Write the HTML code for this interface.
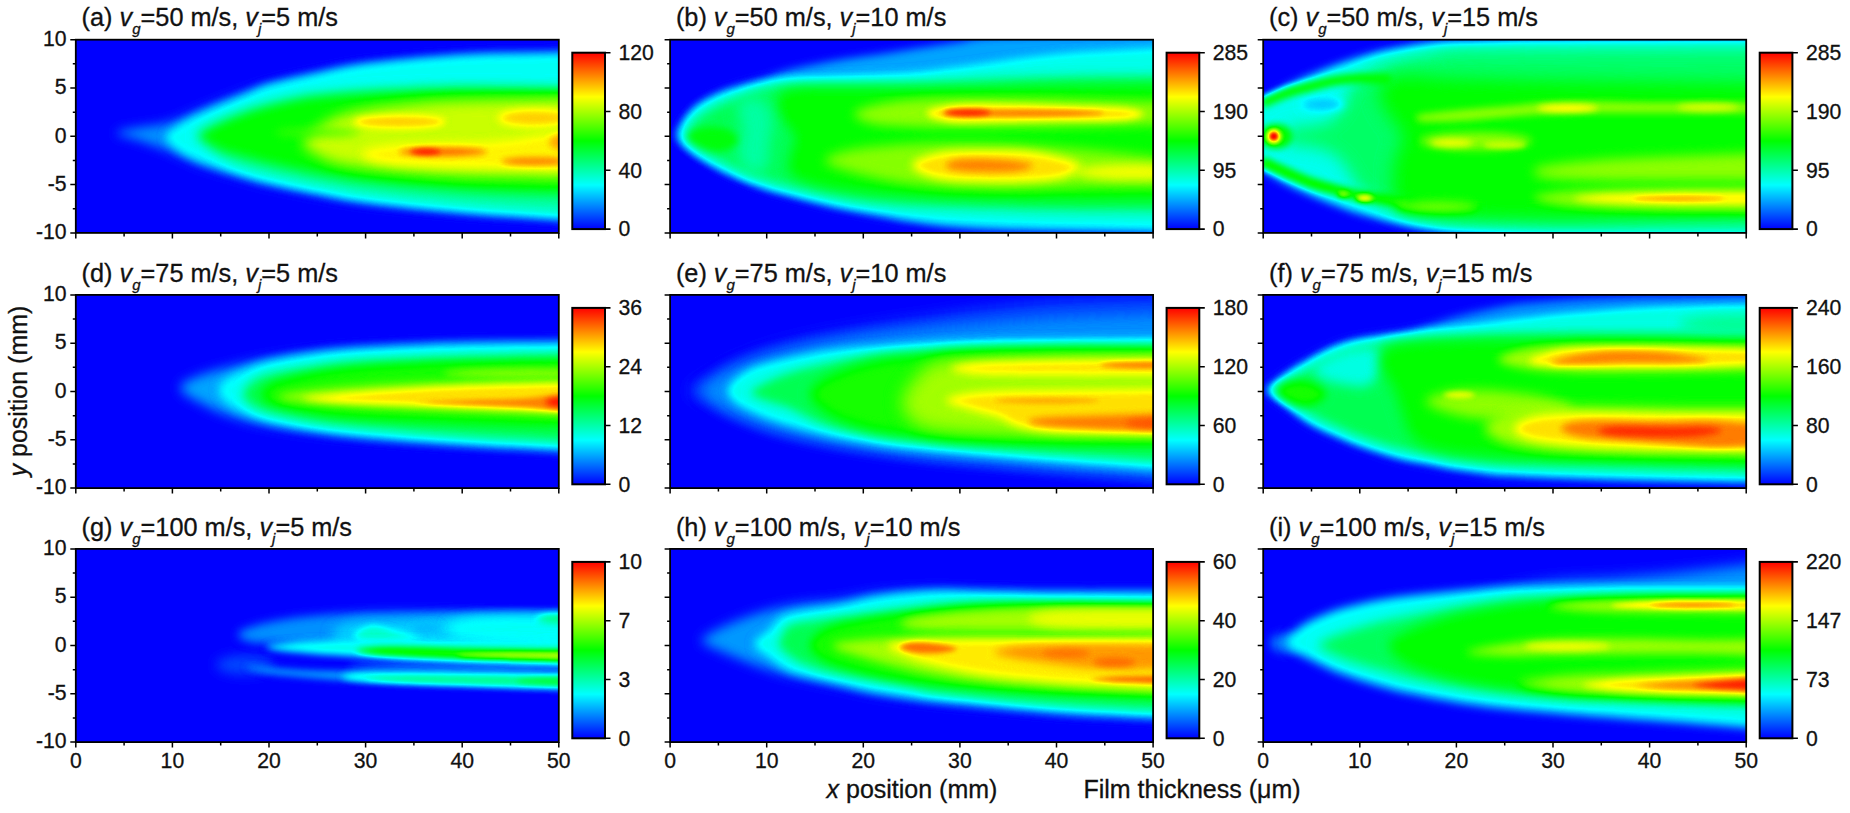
<!DOCTYPE html>
<html lang="en"><head><meta charset="utf-8"><title>Film thickness maps</title>
<style>
html,body{margin:0;padding:0;background:#fff;}
svg{display:block;}
text{font-family:"Liberation Sans", sans-serif;fill:#111;stroke:#111;stroke-width:0.3px;}
.t{font-size:21.2px;}
.ti{font-size:25.3px;}
.i{font-style:italic;}
.sub{font-style:italic;font-size:15px;}
.ax{font-size:25px;}
</style></head><body>
<svg width="1850" height="813" viewBox="0 0 1850 813">
<defs>
<filter id="jet" color-interpolation-filters="sRGB" filterUnits="userSpaceOnUse" x="-2" y="-12" width="54" height="24"><feComponentTransfer><feFuncR type="table" tableValues="0 0 0 1 1"/><feFuncG type="table" tableValues="0 1 1 1 0"/><feFuncB type="table" tableValues="1 1 0 0 0"/></feComponentTransfer></filter>
<filter id="b0_18" color-interpolation-filters="sRGB" x="-100%" y="-100%" width="300%" height="300%"><feGaussianBlur stdDeviation="0.18"/></filter>
<filter id="b0_22" color-interpolation-filters="sRGB" x="-100%" y="-100%" width="300%" height="300%"><feGaussianBlur stdDeviation="0.22"/></filter>
<filter id="b0_25" color-interpolation-filters="sRGB" x="-100%" y="-100%" width="300%" height="300%"><feGaussianBlur stdDeviation="0.25"/></filter>
<filter id="b0_3" color-interpolation-filters="sRGB" x="-100%" y="-100%" width="300%" height="300%"><feGaussianBlur stdDeviation="0.3"/></filter>
<filter id="b0_35" color-interpolation-filters="sRGB" x="-100%" y="-100%" width="300%" height="300%"><feGaussianBlur stdDeviation="0.35"/></filter>
<filter id="b0_4" color-interpolation-filters="sRGB" x="-100%" y="-100%" width="300%" height="300%"><feGaussianBlur stdDeviation="0.4"/></filter>
<filter id="b0_45" color-interpolation-filters="sRGB" x="-100%" y="-100%" width="300%" height="300%"><feGaussianBlur stdDeviation="0.45"/></filter>
<filter id="b0_5" color-interpolation-filters="sRGB" x="-100%" y="-100%" width="300%" height="300%"><feGaussianBlur stdDeviation="0.5"/></filter>
<filter id="b0_55" color-interpolation-filters="sRGB" x="-100%" y="-100%" width="300%" height="300%"><feGaussianBlur stdDeviation="0.55"/></filter>
<filter id="b0_6" color-interpolation-filters="sRGB" x="-100%" y="-100%" width="300%" height="300%"><feGaussianBlur stdDeviation="0.6"/></filter>
<filter id="b0_7" color-interpolation-filters="sRGB" x="-100%" y="-100%" width="300%" height="300%"><feGaussianBlur stdDeviation="0.7"/></filter>
<filter id="b0_8" color-interpolation-filters="sRGB" x="-100%" y="-100%" width="300%" height="300%"><feGaussianBlur stdDeviation="0.8"/></filter>
<filter id="b0_9" color-interpolation-filters="sRGB" x="-100%" y="-100%" width="300%" height="300%"><feGaussianBlur stdDeviation="0.9"/></filter>
<clipPath id="cp"><rect x="0" y="-10" width="50" height="20"/></clipPath>
<linearGradient id="cb" x1="0" y1="1" x2="0" y2="0"><stop offset="0" stop-color="#0000ff"/><stop offset="0.25" stop-color="#00ffff"/><stop offset="0.5" stop-color="#00ff00"/><stop offset="0.75" stop-color="#ffff00"/><stop offset="1" stop-color="#ff0000"/></linearGradient>
</defs>
<rect width="1850" height="813" fill="#fff"/>
<g transform="translate(75.8,136.3) scale(9.66,-9.66)" clip-path="url(#cp)">
<g filter="url(#jet)">
<rect x="-8" y="-18" width="76" height="36" fill="#000000"/>
<path d="M60,8.85C58.33,8.81 53.33,8.68 50,8.6C46.67,8.52 43.33,8.54 40,8.35C36.67,8.16 32.5,7.76 30,7.45C27.5,7.14 26.67,6.84 25,6.5C23.33,6.16 21.23,5.72 20,5.4C18.77,5.08 18.45,4.9 17.6,4.6C16.75,4.3 15.8,3.95 14.9,3.6C14,3.25 13.1,2.87 12.2,2.5C11.3,2.13 10.45,1.67 9.5,1.4C8.55,1.13 7.38,1.07 6.5,0.9C5.62,0.73 4.2,0.57 4.2,0.35C4.2,0.13 5.62,-0.09 6.5,-0.4C7.38,-0.71 8.55,-1.12 9.5,-1.5C10.45,-1.88 11.3,-2.35 12.2,-2.7C13.1,-3.05 14,-3.32 14.9,-3.6C15.8,-3.88 16.75,-4.17 17.6,-4.4C18.45,-4.63 18.77,-4.73 20,-5C21.23,-5.27 23.33,-5.69 25,-6C26.67,-6.31 27.5,-6.54 30,-6.85C32.5,-7.16 36.67,-7.57 40,-7.85C43.33,-8.13 46.67,-8.32 50,-8.55C53.33,-8.78 58.33,-9.13 60,-9.25Z" fill="#242424" filter="url(#b0_55)"/>
<path d="M60,8.8C58.33,8.76 53.33,8.63 50,8.55C46.67,8.47 43.33,8.49 40,8.3C36.67,8.11 32.5,7.71 30,7.4C27.5,7.09 26.67,6.8 25,6.45C23.33,6.1 21.23,5.66 20,5.3C18.77,4.94 18.45,4.65 17.6,4.3C16.75,3.95 15.8,3.58 14.9,3.2C14,2.82 12.97,2.38 12.2,2C11.43,1.62 10.78,1.25 10.3,0.9C9.82,0.55 9.3,0.25 9.3,-0.1C9.3,-0.45 9.82,-0.83 10.3,-1.2C10.78,-1.57 11.43,-1.95 12.2,-2.3C12.97,-2.65 14,-2.99 14.9,-3.3C15.8,-3.61 16.75,-3.9 17.6,-4.15C18.45,-4.4 18.77,-4.52 20,-4.8C21.23,-5.08 23.33,-5.52 25,-5.85C26.67,-6.17 27.5,-6.42 30,-6.75C32.5,-7.08 36.67,-7.51 40,-7.8C43.33,-8.09 46.67,-8.27 50,-8.5C53.33,-8.73 58.33,-9.08 60,-9.2Z" fill="#424242" filter="url(#b0_45)"/>
<path d="M60,4C58.33,4 53.33,4 50,4C46.67,4 43.33,4.17 40,4C36.67,3.83 33.33,3.42 30,3C26.67,2.58 22.67,2.08 20,1.5C17.33,0.92 14.67,0.18 14,-0.5C13.33,-1.18 15,-2.03 16,-2.6C17,-3.17 18.5,-3.5 20,-3.9C21.5,-4.3 23.33,-4.67 25,-5C26.67,-5.33 27.5,-5.57 30,-5.9C32.5,-6.23 36.67,-6.7 40,-7C43.33,-7.3 46.67,-7.47 50,-7.7C53.33,-7.93 58.33,-8.28 60,-8.4Z" fill="#595959" filter="url(#b0_6)"/>
<path d="M60,4.9C58.33,4.92 53.33,4.97 50,5C46.67,5.03 43.33,5.15 40,5.1C36.67,5.05 32.5,4.83 30,4.7C27.5,4.57 26.17,4.42 25,4.3C23.83,4.18 23.78,4.15 23,4C22.22,3.85 21.2,3.63 20.3,3.4C19.4,3.17 18.5,2.92 17.6,2.6C16.7,2.28 15.73,1.93 14.9,1.5C14.07,1.07 12.6,0.48 12.6,0C12.6,-0.48 14.07,-1.03 14.9,-1.4C15.73,-1.77 16.7,-1.95 17.6,-2.2C18.5,-2.45 19.4,-2.68 20.3,-2.9C21.2,-3.12 22.22,-3.33 23,-3.5C23.78,-3.67 23.83,-3.7 25,-3.9C26.17,-4.1 27.5,-4.42 30,-4.7C32.5,-4.98 36.67,-5.38 40,-5.6C43.33,-5.82 46.67,-5.87 50,-6C53.33,-6.13 58.33,-6.33 60,-6.4Z" fill="#808080" filter="url(#b0_6)"/>
<path d="M60,4.1C58.33,4.07 53.33,3.97 50,3.9C46.67,3.83 42.5,3.78 40,3.7C37.5,3.62 36.67,3.55 35,3.4C33.33,3.25 31.33,3.03 30,2.8C28.67,2.57 27.83,2.33 27,2C26.17,1.67 25.58,1.27 25,0.8C24.42,0.33 23.42,-0.3 23.5,-0.8C23.58,-1.3 24.92,-1.87 25.5,-2.2C26.08,-2.53 26.25,-2.62 27,-2.8C27.75,-2.98 28.67,-3.13 30,-3.3C31.33,-3.47 33.33,-3.67 35,-3.8C36.67,-3.93 37.5,-4.02 40,-4.1C42.5,-4.18 46.67,-4.23 50,-4.3C53.33,-4.37 58.33,-4.47 60,-4.5Z" fill="#b2b2b2" filter="url(#b0_7)"/>
<ellipse cx="25" cy="0.4" rx="4.5" ry="0.4" fill="#8f8f8f" filter="url(#b0_5)"/>
<ellipse cx="33.5" cy="1.5" rx="4.8" ry="0.65" fill="#cccccc" filter="url(#b0_4)"/>
<ellipse cx="47.5" cy="1.9" rx="3.8" ry="0.85" fill="#cccccc" filter="url(#b0_45)"/>
<path d="M60,1.9C58.33,1.65 52.67,0.8 50,0.4C47.33,0 46,-0.32 44,-0.5C42,-0.68 40,-0.62 38,-0.7C36,-0.78 33.42,-0.82 32,-1C30.58,-1.18 29.5,-1.5 29.5,-1.8C29.5,-2.1 30.58,-2.57 32,-2.8C33.42,-3.03 36,-3.12 38,-3.2C40,-3.28 42,-3.25 44,-3.3C46,-3.35 47.33,-3.41 50,-3.5C52.67,-3.59 58.33,-3.78 60,-3.83Z" fill="#c2c2c2" filter="url(#b0_5)"/>
<ellipse cx="38" cy="-1.6" rx="4.6" ry="0.42" fill="#e6e6e6" filter="url(#b0_35)"/>
<ellipse cx="36.2" cy="-1.6" rx="1.6" ry="0.3" fill="#fafafa" filter="url(#b0_3)"/>
<ellipse cx="47.5" cy="-2.6" rx="3.5" ry="0.4" fill="#e0e0e0" filter="url(#b0_35)"/>
<ellipse cx="50.5" cy="-0.6" rx="1.5" ry="0.8" fill="#d6d6d6" filter="url(#b0_4)"/>
</g></g>
<rect x="75.8" y="39.7" width="483" height="193.2" fill="none" stroke="#000" stroke-width="1.8"/>
<path d="M75.8,232.9 v5.5 M124.1,232.9 v3.5 M172.4,232.9 v5.5 M220.7,232.9 v3.5 M269,232.9 v5.5 M317.3,232.9 v3.5 M365.6,232.9 v5.5 M413.9,232.9 v3.5 M462.2,232.9 v5.5 M510.5,232.9 v3.5 M558.8,232.9 v5.5 M75.8,39.7 h-5.5 M75.8,63.85 h-3 M75.8,88 h-5.5 M75.8,112.15 h-3 M75.8,136.3 h-5.5 M75.8,160.45 h-3 M75.8,184.6 h-5.5 M75.8,208.75 h-3 M75.8,232.9 h-5.5" stroke="#000" stroke-width="1.5" fill="none"/>
<text x="66.5" y="45.9" text-anchor="end" class="t">10</text>
<text x="66.5" y="94.2" text-anchor="end" class="t">5</text>
<text x="66.5" y="142.5" text-anchor="end" class="t">0</text>
<text x="66.5" y="190.8" text-anchor="end" class="t">-5</text>
<text x="66.5" y="239.1" text-anchor="end" class="t">-10</text>
<text x="81.6" y="26.4" class="ti">(a) <tspan class="i">v</tspan><tspan class="sub" dy="8">g</tspan><tspan dy="-8">=50 m/s, </tspan><tspan class="i">v</tspan><tspan class="sub" dy="8">j</tspan><tspan dy="-8">=5 m/s</tspan></text>
<rect x="572.3" y="52.7" width="32.7" height="176.4" fill="url(#cb)" stroke="#000" stroke-width="2"/>
<text x="618.5" y="236.3" class="t">0</text>
<text x="618.5" y="177.5" class="t">40</text>
<text x="618.5" y="118.7" class="t">80</text>
<text x="618.5" y="59.9" class="t">120</text>
<path d="M605,229.1 h5.5 M605,170.3 h5.5 M605,111.5 h5.5 M605,52.7 h5.5" stroke="#000" stroke-width="1.6" fill="none"/>
<g transform="translate(670.1,136.3) scale(9.66,-9.66)" clip-path="url(#cp)">
<g filter="url(#jet)">
<rect x="-8" y="-18" width="76" height="36" fill="#000000"/>
<path d="M60,10.79C58.33,10.76 54.33,10.68 50,10.6C45.67,10.52 37.38,10.45 34,10.3C30.62,10.15 31.2,9.92 29.7,9.7C28.2,9.48 26.27,9.19 25,9C23.73,8.81 23.4,8.74 22.1,8.55C20.8,8.36 18.83,8.13 17.2,7.85C15.57,7.57 13.53,7.16 12.3,6.85C11.07,6.54 10.62,6.26 9.8,6C8.98,5.74 8.22,5.56 7.4,5.3C6.58,5.04 5.72,4.83 4.9,4.45C4.08,4.07 3.12,3.51 2.5,3C1.88,2.49 1.52,1.88 1.2,1.4C0.88,0.92 0.6,0.47 0.6,0.1C0.6,-0.27 0.88,-0.48 1.2,-0.8C1.52,-1.12 1.88,-1.43 2.5,-1.85C3.12,-2.27 4.08,-2.9 4.9,-3.35C5.72,-3.8 6.58,-4.2 7.4,-4.55C8.22,-4.9 8.98,-5.18 9.8,-5.45C10.62,-5.72 11.07,-5.83 12.3,-6.15C13.53,-6.48 15.57,-7.03 17.2,-7.4C18.83,-7.77 20.8,-8.11 22.1,-8.35C23.4,-8.59 23.73,-8.67 25,-8.85C26.27,-9.03 28.03,-9.3 29.7,-9.45C31.37,-9.6 31.62,-9.67 35,-9.75C38.38,-9.83 45.83,-9.89 50,-9.95C54.17,-10.01 58.33,-10.06 60,-10.08Z" fill="#292929" filter="url(#b0_45)"/>
<path d="M60,9.7C58.33,9.6 53.33,9.3 50,9.1C46.67,8.9 43.33,8.82 40,8.5C36.67,8.18 32.5,7.52 30,7.2C27.5,6.88 26.83,6.75 25,6.6C23.17,6.45 20.68,6.38 19,6.3C17.32,6.22 16.02,6.16 14.9,6.1C13.78,6.04 13.15,6.03 12.3,5.95C11.45,5.87 10.62,5.76 9.8,5.6C8.98,5.44 8.22,5.24 7.4,5C6.58,4.76 5.72,4.53 4.9,4.15C4.08,3.77 3.15,3.38 2.5,2.7C1.85,2.03 1,0.82 1,0.1C1,-0.62 1.85,-1.12 2.5,-1.65C3.15,-2.18 4.08,-2.66 4.9,-3.1C5.72,-3.54 6.58,-3.95 7.4,-4.3C8.22,-4.65 8.98,-4.93 9.8,-5.2C10.62,-5.47 11.07,-5.58 12.3,-5.9C13.53,-6.22 15.57,-6.75 17.2,-7.1C18.83,-7.45 20.8,-7.77 22.1,-8C23.4,-8.23 23.73,-8.33 25,-8.5C26.27,-8.67 27.2,-8.85 29.7,-9C32.2,-9.15 36.62,-9.3 40,-9.4C43.38,-9.5 46.67,-9.53 50,-9.6C53.33,-9.67 58.33,-9.77 60,-9.8Z" fill="#454545" filter="url(#b0_45)"/>
<path d="M60,6.4C58.33,6.38 53.33,6.33 50,6.3C46.67,6.27 43.33,6.28 40,6.2C36.67,6.12 32.5,5.91 30,5.8C27.5,5.69 26.83,5.6 25,5.55C23.17,5.5 21.12,5.52 19,5.5C16.88,5.48 13.83,5.53 12.3,5.45C10.77,5.37 10.62,5.21 9.8,5C8.98,4.79 8.22,4.5 7.4,4.2C6.58,3.9 5.72,3.63 4.9,3.2C4.08,2.77 3.02,2.13 2.5,1.6C1.98,1.07 1.8,0.43 1.8,0C1.8,-0.43 1.98,-0.6 2.5,-1C3.02,-1.4 4.08,-1.97 4.9,-2.4C5.72,-2.83 6.58,-3.25 7.4,-3.6C8.22,-3.95 8.98,-4.23 9.8,-4.5C10.62,-4.77 11.07,-4.9 12.3,-5.2C13.53,-5.5 15.57,-6 17.2,-6.3C18.83,-6.6 20.02,-6.82 22.1,-7C24.18,-7.18 26.72,-7.28 29.7,-7.4C32.68,-7.52 36.62,-7.63 40,-7.7C43.38,-7.77 46.67,-7.77 50,-7.8C53.33,-7.83 58.33,-7.88 60,-7.9Z" fill="#6b6b6b" filter="url(#b0_6)"/>
<path d="M60,5.4C58.33,5.38 53.33,5.33 50,5.3C46.67,5.27 43.33,5.25 40,5.2C36.67,5.15 33.5,5.03 30,5C26.5,4.97 21.83,5.02 19,5C16.17,4.98 14.3,5.07 13,4.9C11.7,4.73 11.45,4.48 11.2,4C10.95,3.52 11.2,2.67 11.5,2C11.8,1.33 12.83,0.67 13,0C13.17,-0.67 12.58,-1.37 12.5,-2C12.42,-2.63 12.1,-3.32 12.5,-3.8C12.9,-4.28 13.83,-4.6 14.9,-4.9C15.97,-5.2 17.33,-5.4 18.9,-5.6C20.47,-5.8 22.5,-5.97 24.3,-6.1C26.1,-6.23 27.08,-6.32 29.7,-6.4C32.32,-6.48 36.62,-6.57 40,-6.6C43.38,-6.63 46.67,-6.6 50,-6.6C53.33,-6.6 58.33,-6.6 60,-6.6Z" fill="#808080" filter="url(#b0_6)"/>
<path d="M7,3.3C7.3,3.88 8.7,4.22 9.3,4C9.9,3.78 10.43,2.83 10.6,2C10.77,1.17 10.4,-0.12 10.3,-1C10.2,-1.88 10.35,-2.85 10,-3.3C9.65,-3.75 8.7,-3.92 8.2,-3.7C7.7,-3.48 7.12,-2.7 7,-2C6.88,-1.3 7.5,-0.38 7.5,0.5C7.5,1.38 6.7,2.72 7,3.3Z" fill="#575757" filter="url(#b0_7)"/>
<path d="M1.8,0C1.8,0.35 2.8,0.78 3.5,0.9C4.2,1.02 5.42,0.93 6,0.7C6.58,0.47 7.08,-0.13 7,-0.5C6.92,-0.87 6.08,-1.38 5.5,-1.5C4.92,-1.62 4.12,-1.45 3.5,-1.2C2.88,-0.95 1.8,-0.35 1.8,0Z" fill="#7d7d7d" filter="url(#b0_4)"/>
<path d="M60,3.3C58.33,3.35 53.33,3.5 50,3.6C46.67,3.7 43.33,3.83 40,3.9C36.67,3.97 32.5,4.02 30,4C27.5,3.98 26.5,3.93 25,3.8C23.5,3.67 22,3.45 21,3.2C20,2.95 19,2.62 19,2.3C19,1.98 20,1.52 21,1.3C22,1.08 23.5,1.07 25,1C26.5,0.93 27.5,0.9 30,0.9C32.5,0.9 36.67,0.95 40,1C43.33,1.05 46.67,1.13 50,1.2C53.33,1.27 58.33,1.37 60,1.4Z" fill="#a3a3a3" filter="url(#b0_55)"/>
<path d="M26.5,2.4C26.5,2.68 27.75,3.05 29,3.2C30.25,3.35 32,3.32 34,3.3C36,3.28 38.83,3.17 41,3.1C43.17,3.03 45.67,3.03 47,2.9C48.33,2.77 49,2.5 49,2.3C49,2.1 48.33,1.82 47,1.7C45.67,1.58 43.17,1.63 41,1.6C38.83,1.57 36,1.52 34,1.5C32,1.48 30.25,1.35 29,1.5C27.75,1.65 26.5,2.12 26.5,2.4Z" fill="#c7c7c7" filter="url(#b0_4)"/>
<ellipse cx="36.5" cy="2.4" rx="8.5" ry="0.36" fill="#e0e0e0" filter="url(#b0_3)"/>
<ellipse cx="30.8" cy="2.45" rx="2.4" ry="0.36" fill="#f7f7f7" filter="url(#b0_3)"/>
<path d="M60,-3.1C58.33,-2.93 53,-2.4 50,-2.1C47,-1.8 44.5,-1.52 42,-1.3C39.5,-1.08 37,-0.9 35,-0.8C33,-0.7 31.67,-0.7 30,-0.7C28.33,-0.7 26.67,-0.72 25,-0.8C23.33,-0.88 21.25,-1.05 20,-1.2C18.75,-1.35 18.17,-1.48 17.5,-1.7C16.83,-1.92 15.92,-2.2 16,-2.5C16.08,-2.8 17,-3.17 18,-3.5C19,-3.83 20.67,-4.23 22,-4.5C23.33,-4.77 24.67,-4.95 26,-5.1C27.33,-5.25 28.33,-5.33 30,-5.4C31.67,-5.47 34,-5.52 36,-5.5C38,-5.48 39.67,-5.35 42,-5.3C44.33,-5.25 47,-5.24 50,-5.2C53,-5.16 58.33,-5.1 60,-5.08Z" fill="#a1a1a1" filter="url(#b0_6)"/>
<path d="M25,-3C25,-2.55 26.67,-1.95 28,-1.7C29.33,-1.45 31.33,-1.5 33,-1.5C34.67,-1.5 36.42,-1.45 38,-1.7C39.58,-1.95 42.17,-2.55 42.5,-3C42.83,-3.45 41.42,-4.12 40,-4.4C38.58,-4.68 36,-4.7 34,-4.7C32,-4.7 29.5,-4.68 28,-4.4C26.5,-4.12 25,-3.45 25,-3Z" fill="#c7c7c7" filter="url(#b0_5)"/>
<path d="M28.5,-3C28.58,-2.82 29.08,-2.5 30,-2.4C30.92,-2.3 32.75,-2.32 34,-2.4C35.25,-2.48 37.17,-2.7 37.5,-2.9C37.83,-3.1 36.92,-3.47 36,-3.6C35.08,-3.73 33.08,-3.72 32,-3.7C30.92,-3.68 30.08,-3.62 29.5,-3.5C28.92,-3.38 28.42,-3.18 28.5,-3Z" fill="#dedede" filter="url(#b0_4)"/>
<ellipse cx="48" cy="-3.7" rx="6" ry="0.8" fill="#bdbdbd" filter="url(#b0_5)"/>
</g></g>
<rect x="670.1" y="39.7" width="483" height="193.2" fill="none" stroke="#000" stroke-width="1.8"/>
<path d="M670.1,232.9 v5.5 M718.4,232.9 v3.5 M766.7,232.9 v5.5 M815,232.9 v3.5 M863.3,232.9 v5.5 M911.6,232.9 v3.5 M959.9,232.9 v5.5 M1008.2,232.9 v3.5 M1056.5,232.9 v5.5 M1104.8,232.9 v3.5 M1153.1,232.9 v5.5 M670.1,39.7 h-5.5 M670.1,63.85 h-3 M670.1,88 h-5.5 M670.1,112.15 h-3 M670.1,136.3 h-5.5 M670.1,160.45 h-3 M670.1,184.6 h-5.5 M670.1,208.75 h-3 M670.1,232.9 h-5.5" stroke="#000" stroke-width="1.5" fill="none"/>
<text x="675.9" y="26.4" class="ti">(b) <tspan class="i">v</tspan><tspan class="sub" dy="8">g</tspan><tspan dy="-8">=50 m/s, </tspan><tspan class="i">v</tspan><tspan class="sub" dy="8">j</tspan><tspan dy="-8">=10 m/s</tspan></text>
<rect x="1166.6" y="52.7" width="32.7" height="176.4" fill="url(#cb)" stroke="#000" stroke-width="2"/>
<text x="1212.8" y="236.3" class="t">0</text>
<text x="1212.8" y="177.5" class="t">95</text>
<text x="1212.8" y="118.7" class="t">190</text>
<text x="1212.8" y="59.9" class="t">285</text>
<path d="M1199.3,229.1 h5.5 M1199.3,170.3 h5.5 M1199.3,111.5 h5.5 M1199.3,52.7 h5.5" stroke="#000" stroke-width="1.6" fill="none"/>
<g transform="translate(1263.2,136.3) scale(9.66,-9.66)" clip-path="url(#cp)">
<g filter="url(#jet)">
<rect x="-8" y="-18" width="76" height="36" fill="#000000"/>
<path d="M60,10.1C58.33,10.1 55,10.12 50,10.1C45,10.08 34.17,10.03 30,10C25.83,9.97 26.67,9.94 25,9.9C23.33,9.86 21.28,9.8 20,9.75C18.72,9.7 18.17,9.68 17.3,9.6C16.43,9.52 15.63,9.38 14.8,9.25C13.97,9.12 13.12,8.98 12.3,8.8C11.48,8.62 10.72,8.4 9.9,8.15C9.08,7.9 8.23,7.61 7.4,7.3C6.57,6.99 5.72,6.65 4.9,6.3C4.08,5.95 3.22,5.57 2.5,5.2C1.78,4.83 1.18,4.45 0.6,4.1C0.02,3.75 -0.48,3.53 -1,3.1C-1.52,2.67 -2.17,2.02 -2.5,1.5C-2.83,0.98 -3,0.55 -3,0C-3,-0.55 -2.83,-1.3 -2.5,-1.8C-2.17,-2.3 -1.48,-2.67 -1,-3C-0.52,-3.33 -0.18,-3.42 0.4,-3.75C0.98,-4.08 1.75,-4.57 2.5,-4.95C3.25,-5.33 4.08,-5.7 4.9,-6.05C5.72,-6.4 6.57,-6.73 7.4,-7.05C8.23,-7.37 9.08,-7.69 9.9,-7.95C10.72,-8.21 11.48,-8.4 12.3,-8.6C13.12,-8.8 13.97,-8.98 14.8,-9.15C15.63,-9.32 16.43,-9.47 17.3,-9.6C18.17,-9.72 17.88,-9.78 20,-9.9C22.12,-10.02 25,-10.2 30,-10.3C35,-10.4 45,-10.47 50,-10.5C55,-10.53 58.33,-10.5 60,-10.5Z" fill="#454545" filter="url(#b0_45)"/>
<path d="M60,9.1C58.33,9.1 56.33,9.12 50,9.1C43.67,9.08 27.33,9.07 22,9C16.67,8.93 19.2,8.85 18,8.7C16.8,8.55 15.75,8.32 14.8,8.1C13.85,7.88 13.05,7.68 12.3,7.4C11.55,7.12 10.85,6.83 10.3,6.4C9.75,5.97 9.35,5.37 9,4.8C8.65,4.23 8.53,3.53 8.2,3C7.87,2.47 7.53,1.92 7,1.6C6.47,1.28 5.67,1.22 5,1.1C4.33,0.98 3.5,1.08 3,0.9C2.5,0.72 2,0.3 2,0C2,-0.3 2.5,-0.72 3,-0.9C3.5,-1.08 4.33,-0.97 5,-1.1C5.67,-1.23 6.42,-1.38 7,-1.7C7.58,-2.02 8.08,-2.48 8.5,-3C8.92,-3.52 9.12,-4.28 9.5,-4.8C9.88,-5.32 10.22,-5.65 10.8,-6.1C11.38,-6.55 12.33,-7.15 13,-7.5C13.67,-7.85 14.08,-8.01 14.8,-8.2C15.52,-8.39 16.43,-8.53 17.3,-8.65C18.17,-8.78 17.88,-8.84 20,-8.95C22.12,-9.06 25,-9.26 30,-9.3C35,-9.34 45,-9.22 50,-9.2C55,-9.18 58.33,-9.2 60,-9.2Z" fill="#666666" filter="url(#b0_8)"/>
<path d="M60,5.6C58.33,5.6 53.33,5.58 50,5.6C46.67,5.62 43.33,5.67 40,5.7C36.67,5.73 33.33,5.75 30,5.8C26.67,5.85 22.42,5.92 20,6C17.58,6.08 16.67,6.3 15.5,6.3C14.33,6.3 13.58,6.3 13,6C12.42,5.7 12.08,5 12,4.5C11.92,4 12.25,3.5 12.5,3C12.75,2.5 13.17,2 13.5,1.5C13.83,1 14.42,0.5 14.5,0C14.58,-0.5 14.17,-1 14,-1.5C13.83,-2 13.58,-2.42 13.5,-3C13.42,-3.58 13.5,-4.42 13.5,-5C13.5,-5.58 13.33,-6.1 13.5,-6.5C13.67,-6.9 14,-7.15 14.5,-7.4C15,-7.65 15.58,-7.83 16.5,-8C17.42,-8.17 17.75,-8.3 20,-8.4C22.25,-8.5 26.67,-8.58 30,-8.6C33.33,-8.62 36.67,-8.53 40,-8.5C43.33,-8.47 46.67,-8.42 50,-8.4C53.33,-8.38 58.33,-8.4 60,-8.4Z" fill="#808080" filter="url(#b0_9)"/>
<ellipse cx="6.2" cy="3.3" rx="2.2" ry="0.6" fill="#303030" filter="url(#b0_45)"/>
<path d="M0.2,3.55C0.58,3.71 1.72,4.23 2.5,4.5C3.28,4.77 4.08,4.94 4.9,5.15C5.72,5.36 6.57,5.61 7.4,5.75C8.23,5.89 9,5.97 9.9,6C10.8,6.03 12.32,5.92 12.8,5.9" fill="none" stroke="#808080" stroke-width="1" stroke-linecap="round" filter="url(#b0_35)"/>
<path d="M0.2,-2.75C0.58,-2.92 1.72,-3.46 2.5,-3.8C3.28,-4.14 4.08,-4.52 4.9,-4.8C5.72,-5.08 6.57,-5.28 7.4,-5.5C8.23,-5.72 9.08,-5.98 9.9,-6.15C10.72,-6.32 11.53,-6.38 12.3,-6.5C13.07,-6.62 14.13,-6.83 14.5,-6.9" fill="none" stroke="#858585" stroke-width="1.05" stroke-linecap="round" filter="url(#b0_35)"/>
<ellipse cx="10.5" cy="-6.4" rx="0.85" ry="0.34" fill="#c7c7c7" filter="url(#b0_25)"/>
<ellipse cx="8.3" cy="-6" rx="0.6" ry="0.3" fill="#a8a8a8" filter="url(#b0_25)"/>
<ellipse cx="1.3" cy="0" rx="1.7" ry="1.3" fill="#808080" filter="url(#b0_35)"/>
<ellipse cx="1.1" cy="0" rx="0.78" ry="0.78" fill="#c7c7c7" filter="url(#b0_22)"/>
<ellipse cx="1.1" cy="0" rx="0.4" ry="0.4" fill="#ffffff" filter="url(#b0_18)"/>
<path d="M60,3.5C58.33,3.5 53.33,3.5 50,3.5C46.67,3.5 43.17,3.48 40,3.5C36.83,3.52 33.5,3.67 31,3.6C28.5,3.53 26.83,3.25 25,3.1C23.17,2.95 21.42,2.83 20,2.7C18.58,2.57 17.2,2.43 16.5,2.3C15.8,2.17 15.72,2.03 15.8,1.9C15.88,1.77 15.97,1.53 17,1.5C18.03,1.47 20.17,1.58 22,1.7C23.83,1.82 26,2.08 28,2.2C30,2.32 31.67,2.37 34,2.4C36.33,2.43 39.33,2.4 42,2.4C44.67,2.4 47,2.4 50,2.4C53,2.4 58.33,2.4 60,2.4Z" fill="#a3a3a3" filter="url(#b0_4)"/>
<ellipse cx="31.5" cy="2.9" rx="3.2" ry="0.36" fill="#c7c7c7" filter="url(#b0_35)"/>
<ellipse cx="46" cy="3" rx="3.2" ry="0.36" fill="#b8b8b8" filter="url(#b0_35)"/>
<ellipse cx="22" cy="-0.5" rx="5.8" ry="0.9" fill="#a3a3a3" filter="url(#b0_45)"/>
<ellipse cx="19.5" cy="-0.7" rx="2.2" ry="0.4" fill="#bdbdbd" filter="url(#b0_35)"/>
<ellipse cx="25" cy="-0.9" rx="2.2" ry="0.36" fill="#b2b2b2" filter="url(#b0_3)"/>
<path d="M60,-1.43C58.33,-1.49 53,-1.69 50,-1.8C47,-1.91 44.67,-1.98 42,-2.1C39.33,-2.22 36.17,-2.33 34,-2.5C31.83,-2.67 30,-2.88 29,-3.1C28,-3.32 27.83,-3.58 28,-3.8C28.17,-4.02 28.67,-4.27 30,-4.4C31.33,-4.53 33.67,-4.57 36,-4.6C38.33,-4.63 41.67,-4.6 44,-4.6C46.33,-4.6 47.33,-4.6 50,-4.6C52.67,-4.6 58.33,-4.6 60,-4.6Z" fill="#a3a3a3" filter="url(#b0_6)"/>
<path d="M60,-5.1C58.33,-5.12 53.33,-5.17 50,-5.2C46.67,-5.23 43,-5.23 40,-5.3C37,-5.37 34,-5.43 32,-5.6C30,-5.77 28,-6.02 28,-6.3C28,-6.58 30,-7.07 32,-7.3C34,-7.53 37,-7.62 40,-7.7C43,-7.78 46.67,-7.77 50,-7.8C53.33,-7.83 58.33,-7.88 60,-7.9Z" fill="#a1a1a1" filter="url(#b0_5)"/>
<path d="M60,-5.85C58.33,-5.85 52.67,-5.85 50,-5.85C47.33,-5.85 46,-5.83 44,-5.85C42,-5.87 39.67,-5.9 38,-5.95C36.33,-6 35,-6.07 34,-6.15C33,-6.23 32,-6.35 32,-6.45C32,-6.55 33,-6.67 34,-6.75C35,-6.83 36.33,-6.9 38,-6.95C39.67,-7 42,-7.03 44,-7.05C46,-7.07 47.33,-7.05 50,-7.05C52.67,-7.05 58.33,-7.05 60,-7.05Z" fill="#c4c4c4" filter="url(#b0_4)"/>
<ellipse cx="43" cy="-6.45" rx="4.8" ry="0.24" fill="#d6d6d6" filter="url(#b0_3)"/>
<ellipse cx="18" cy="-7.3" rx="4.2" ry="0.55" fill="#9e9e9e" filter="url(#b0_5)"/>
</g></g>
<rect x="1263.2" y="39.7" width="483" height="193.2" fill="none" stroke="#000" stroke-width="1.8"/>
<path d="M1263.2,232.9 v5.5 M1311.5,232.9 v3.5 M1359.8,232.9 v5.5 M1408.1,232.9 v3.5 M1456.4,232.9 v5.5 M1504.7,232.9 v3.5 M1553,232.9 v5.5 M1601.3,232.9 v3.5 M1649.6,232.9 v5.5 M1697.9,232.9 v3.5 M1746.2,232.9 v5.5 M1263.2,39.7 h-5.5 M1263.2,63.85 h-3 M1263.2,88 h-5.5 M1263.2,112.15 h-3 M1263.2,136.3 h-5.5 M1263.2,160.45 h-3 M1263.2,184.6 h-5.5 M1263.2,208.75 h-3 M1263.2,232.9 h-5.5" stroke="#000" stroke-width="1.5" fill="none"/>
<text x="1269" y="26.4" class="ti">(c) <tspan class="i">v</tspan><tspan class="sub" dy="8">g</tspan><tspan dy="-8">=50 m/s, </tspan><tspan class="i">v</tspan><tspan class="sub" dy="8">j</tspan><tspan dy="-8">=15 m/s</tspan></text>
<rect x="1759.7" y="52.7" width="32.7" height="176.4" fill="url(#cb)" stroke="#000" stroke-width="2"/>
<text x="1805.9" y="236.3" class="t">0</text>
<text x="1805.9" y="177.5" class="t">95</text>
<text x="1805.9" y="118.7" class="t">190</text>
<text x="1805.9" y="59.9" class="t">285</text>
<path d="M1792.4,229.1 h5.5 M1792.4,170.3 h5.5 M1792.4,111.5 h5.5 M1792.4,52.7 h5.5" stroke="#000" stroke-width="1.6" fill="none"/>
<g transform="translate(75.8,391.5) scale(9.66,-9.66)" clip-path="url(#cp)">
<g filter="url(#jet)">
<rect x="-8" y="-18" width="76" height="36" fill="#000000"/>
<path d="M60,5.1C58.33,5.08 53.33,5.03 50,5C46.67,4.97 43.33,4.99 40,4.9C36.67,4.81 32.5,4.59 30,4.45C27.5,4.31 26.67,4.22 25,4.05C23.33,3.88 21.47,3.64 20,3.4C18.53,3.16 17.37,2.88 16.2,2.6C15.03,2.32 13.9,2.07 13,1.7C12.1,1.33 10.8,0.88 10.8,0.4C10.8,-0.08 12.1,-0.7 13,-1.2C13.9,-1.7 15.03,-2.22 16.2,-2.6C17.37,-2.98 18.53,-3.23 20,-3.5C21.47,-3.77 23.33,-4 25,-4.2C26.67,-4.4 27.5,-4.5 30,-4.7C32.5,-4.9 36.67,-5.19 40,-5.4C43.33,-5.61 46.67,-5.77 50,-5.95C53.33,-6.13 58.33,-6.41 60,-6.5Z" fill="#292929" filter="url(#b0_6)"/>
<path d="M60,5.1C58.33,5.08 53.33,5.03 50,5C46.67,4.97 43.33,4.99 40,4.9C36.67,4.81 32.5,4.6 30,4.45C27.5,4.3 26.67,4.22 25,4C23.33,3.77 21.25,3.4 20,3.1C18.75,2.8 18.25,2.52 17.5,2.2C16.75,1.88 15.95,1.53 15.5,1.2C15.05,0.87 14.8,0.57 14.8,0.2C14.8,-0.17 15.05,-0.6 15.5,-1C15.95,-1.4 16.75,-1.85 17.5,-2.2C18.25,-2.55 18.75,-2.79 20,-3.1C21.25,-3.41 23.33,-3.79 25,-4.05C26.67,-4.31 27.5,-4.43 30,-4.65C32.5,-4.88 36.67,-5.18 40,-5.4C43.33,-5.62 46.67,-5.77 50,-5.95C53.33,-6.13 58.33,-6.41 60,-6.5Z" fill="#424242" filter="url(#b0_5)"/>
<path d="M60,4.05C58.33,4.02 53.33,3.92 50,3.85C46.67,3.78 43.33,3.75 40,3.65C36.67,3.55 32.5,3.41 30,3.25C27.5,3.09 26.67,2.94 25,2.7C23.33,2.46 21.17,2.12 20,1.8C18.83,1.48 18.45,1.17 18,0.8C17.55,0.43 17.3,-0.05 17.3,-0.4C17.3,-0.75 17.55,-1 18,-1.3C18.45,-1.6 18.83,-1.88 20,-2.2C21.17,-2.52 23.33,-2.94 25,-3.2C26.67,-3.46 27.5,-3.52 30,-3.75C32.5,-3.98 36.67,-4.33 40,-4.55C43.33,-4.77 46.67,-4.92 50,-5.1C53.33,-5.28 58.33,-5.56 60,-5.65Z" fill="#6e6e6e" filter="url(#b0_55)"/>
<path d="M60,3.5C58.33,3.47 53.33,3.37 50,3.3C46.67,3.23 43.33,3.22 40,3.1C36.67,2.98 32.5,2.78 30,2.6C27.5,2.42 26.58,2.28 25,2C23.42,1.72 21.45,1.3 20.5,0.9C19.55,0.5 19.3,-0.02 19.3,-0.4C19.3,-0.78 19.55,-1.08 20.5,-1.4C21.45,-1.72 23.42,-2.07 25,-2.3C26.58,-2.53 27.5,-2.65 30,-2.8C32.5,-2.95 36.67,-3.08 40,-3.2C43.33,-3.32 46.67,-3.4 50,-3.5C53.33,-3.6 58.33,-3.75 60,-3.8Z" fill="#858585" filter="url(#b0_5)"/>
<ellipse cx="47" cy="1.9" rx="9" ry="0.5" fill="#a1a1a1" filter="url(#b0_4)"/>
<path d="M60,1.4C58.33,1.37 53.33,1.27 50,1.2C46.67,1.13 43.33,1.1 40,1C36.67,0.9 32.67,0.75 30,0.6C27.33,0.45 25.53,0.29 24,0.1C22.47,-0.09 20.8,-0.33 20.8,-0.55C20.8,-0.77 22.47,-1.02 24,-1.2C25.53,-1.38 27.33,-1.47 30,-1.6C32.67,-1.73 36.67,-1.87 40,-2C43.33,-2.13 46.67,-2.27 50,-2.4C53.33,-2.53 58.33,-2.73 60,-2.8Z" fill="#a8a8a8" filter="url(#b0_5)"/>
<path d="M60,1.05C58.33,1.01 53.33,0.88 50,0.8C46.67,0.72 42.83,0.66 40,0.55C37.17,0.44 35.17,0.29 33,0.15C30.83,0.01 28.58,-0.16 27,-0.3C25.42,-0.44 23.5,-0.57 23.5,-0.7C23.5,-0.83 25.42,-0.99 27,-1.1C28.58,-1.21 30.83,-1.26 33,-1.35C35.17,-1.44 37.17,-1.53 40,-1.65C42.83,-1.77 46.67,-1.92 50,-2.05C53.33,-2.18 58.33,-2.38 60,-2.45Z" fill="#c7c7c7" filter="url(#b0_4)"/>
<path d="M60,0.82C58.33,0.64 52.33,-0.04 50,-0.3C47.67,-0.56 47.5,-0.65 46,-0.75C44.5,-0.85 42.5,-0.85 41,-0.9C39.5,-0.95 38,-0.99 37,-1.03C36,-1.07 35,-1.11 35,-1.15C35,-1.19 36,-1.23 37,-1.27C38,-1.31 39.5,-1.34 41,-1.4C42.5,-1.45 44.5,-1.51 46,-1.6C47.5,-1.69 47.67,-1.75 50,-1.95C52.33,-2.15 58.33,-2.68 60,-2.82Z" fill="#dedede" filter="url(#b0_3)"/>
<ellipse cx="51.2" cy="-1.1" rx="2.6" ry="0.5" fill="#ffffff" filter="url(#b0_35)"/>
</g></g>
<rect x="75.8" y="294.9" width="483" height="193.2" fill="none" stroke="#000" stroke-width="1.8"/>
<path d="M75.8,488.1 v5.5 M124.1,488.1 v3.5 M172.4,488.1 v5.5 M220.7,488.1 v3.5 M269,488.1 v5.5 M317.3,488.1 v3.5 M365.6,488.1 v5.5 M413.9,488.1 v3.5 M462.2,488.1 v5.5 M510.5,488.1 v3.5 M558.8,488.1 v5.5 M75.8,294.9 h-5.5 M75.8,319.05 h-3 M75.8,343.2 h-5.5 M75.8,367.35 h-3 M75.8,391.5 h-5.5 M75.8,415.65 h-3 M75.8,439.8 h-5.5 M75.8,463.95 h-3 M75.8,488.1 h-5.5" stroke="#000" stroke-width="1.5" fill="none"/>
<text x="66.5" y="301.1" text-anchor="end" class="t">10</text>
<text x="66.5" y="349.4" text-anchor="end" class="t">5</text>
<text x="66.5" y="397.7" text-anchor="end" class="t">0</text>
<text x="66.5" y="446" text-anchor="end" class="t">-5</text>
<text x="66.5" y="494.3" text-anchor="end" class="t">-10</text>
<text x="81.6" y="281.6" class="ti">(d) <tspan class="i">v</tspan><tspan class="sub" dy="8">g</tspan><tspan dy="-8">=75 m/s, </tspan><tspan class="i">v</tspan><tspan class="sub" dy="8">j</tspan><tspan dy="-8">=5 m/s</tspan></text>
<rect x="572.3" y="307.9" width="32.7" height="176.4" fill="url(#cb)" stroke="#000" stroke-width="2"/>
<text x="618.5" y="491.5" class="t">0</text>
<text x="618.5" y="432.7" class="t">12</text>
<text x="618.5" y="373.9" class="t">24</text>
<text x="618.5" y="315.1" class="t">36</text>
<path d="M605,484.3 h5.5 M605,425.5 h5.5 M605,366.7 h5.5 M605,307.9 h5.5" stroke="#000" stroke-width="1.6" fill="none"/>
<g transform="translate(670.1,391.5) scale(9.66,-9.66)" clip-path="url(#cp)">
<g filter="url(#jet)">
<rect x="-8" y="-18" width="76" height="36" fill="#000000"/>
<path d="M60,10.22C58.33,10.15 53.25,9.94 50,9.8C46.75,9.66 43.43,9.6 40.5,9.4C37.57,9.2 34.65,8.87 32.4,8.6C30.15,8.33 28.8,8.07 27,7.8C25.2,7.53 23.4,7.3 21.6,7C19.8,6.7 18,6.38 16.2,6C14.4,5.62 12.37,5.17 10.8,4.7C9.23,4.23 7.93,3.72 6.8,3.2C5.67,2.68 4.8,2.12 4,1.6C3.2,1.08 2,0.59 2,0.1C2,-0.39 3.2,-0.88 4,-1.35C4.8,-1.82 5.67,-2.23 6.8,-2.7C7.93,-3.18 9.23,-3.75 10.8,-4.2C12.37,-4.65 14.4,-5.05 16.2,-5.4C18,-5.75 19.8,-6.03 21.6,-6.3C23.4,-6.57 25.2,-6.8 27,-7C28.8,-7.2 30.15,-7.28 32.4,-7.5C34.65,-7.72 37.57,-8.05 40.5,-8.3C43.43,-8.55 46.75,-8.76 50,-9C53.25,-9.24 58.33,-9.61 60,-9.74Z" fill="#121212" filter="url(#b0_7)"/>
<path d="M60,8.42C58.33,8.35 53.25,8.14 50,8C46.75,7.86 43.43,7.77 40.5,7.6C37.57,7.43 34.65,7.18 32.4,7C30.15,6.82 28.8,6.68 27,6.5C25.2,6.32 23.4,6.13 21.6,5.9C19.8,5.67 18,5.43 16.2,5.1C14.4,4.77 12.37,4.33 10.8,3.9C9.23,3.47 7.85,2.95 6.8,2.5C5.75,2.05 5.08,1.6 4.5,1.2C3.92,0.8 3.3,0.48 3.3,0.1C3.3,-0.28 3.92,-0.68 4.5,-1.1C5.08,-1.52 5.75,-1.93 6.8,-2.4C7.85,-2.87 9.23,-3.43 10.8,-3.9C12.37,-4.37 14.4,-4.83 16.2,-5.2C18,-5.57 19.8,-5.83 21.6,-6.1C23.4,-6.37 25.2,-6.6 27,-6.8C28.8,-7 30.15,-7.1 32.4,-7.3C34.65,-7.5 37.57,-7.77 40.5,-8C43.43,-8.23 46.75,-8.46 50,-8.7C53.25,-8.94 58.33,-9.31 60,-9.44Z" fill="#242424" filter="url(#b0_7)"/>
<path d="M60,5.61C58.33,5.59 53.25,5.53 50,5.5C46.75,5.47 43.43,5.43 40.5,5.4C37.57,5.37 34.65,5.35 32.4,5.3C30.15,5.25 28.8,5.2 27,5.1C25.2,5 23.4,4.85 21.6,4.7C19.8,4.55 18,4.47 16.2,4.2C14.4,3.93 12.15,3.43 10.8,3.1C9.45,2.77 8.83,2.57 8.1,2.2C7.37,1.83 6.75,1.27 6.4,0.9C6.05,0.53 5.98,0.3 6,0C6.02,-0.3 6.15,-0.58 6.5,-0.9C6.85,-1.22 7.38,-1.55 8.1,-1.9C8.82,-2.25 9.45,-2.57 10.8,-3C12.15,-3.43 14.4,-4.08 16.2,-4.5C18,-4.92 19.8,-5.23 21.6,-5.5C23.4,-5.77 25.2,-5.92 27,-6.1C28.8,-6.28 30.15,-6.4 32.4,-6.6C34.65,-6.8 37.57,-7.07 40.5,-7.3C43.43,-7.53 46.75,-7.76 50,-8C53.25,-8.24 58.33,-8.61 60,-8.74Z" fill="#454545" filter="url(#b0_45)"/>
<path d="M60,4.49C58.33,4.51 53.25,4.57 50,4.6C46.75,4.63 43.43,4.7 40.5,4.7C37.57,4.7 34.65,4.67 32.4,4.6C30.15,4.53 28.8,4.42 27,4.3C25.2,4.18 23.23,4.1 21.6,3.9C19.97,3.7 18.75,3.43 17.2,3.1C15.65,2.77 13.58,2.3 12.3,1.9C11.02,1.5 10.15,1.03 9.5,0.7C8.85,0.37 8.4,0.15 8.4,-0.1C8.4,-0.35 8.85,-0.53 9.5,-0.8C10.15,-1.07 11.18,-1.25 12.3,-1.7C13.42,-2.15 14.65,-3 16.2,-3.5C17.75,-4 19.8,-4.38 21.6,-4.7C23.4,-5.02 25.2,-5.2 27,-5.4C28.8,-5.6 30.15,-5.72 32.4,-5.9C34.65,-6.08 37.57,-6.3 40.5,-6.5C43.43,-6.7 46.75,-6.89 50,-7.1C53.25,-7.31 58.33,-7.63 60,-7.73Z" fill="#6b6b6b" filter="url(#b0_5)"/>
<path d="M60,4.2C58.33,4.2 53.25,4.2 50,4.2C46.75,4.2 43.43,4.22 40.5,4.2C37.57,4.18 34.65,4.17 32.4,4.1C30.15,4.03 28.8,3.95 27,3.8C25.2,3.65 23.18,3.5 21.6,3.2C20.02,2.9 18.57,2.4 17.5,2C16.43,1.6 15.7,1.18 15.2,0.8C14.7,0.42 14.5,0.07 14.5,-0.3C14.5,-0.67 14.7,-0.97 15.2,-1.4C15.7,-1.83 16.43,-2.45 17.5,-2.9C18.57,-3.35 20.02,-3.8 21.6,-4.1C23.18,-4.4 25.2,-4.55 27,-4.7C28.8,-4.85 30.15,-4.92 32.4,-5C34.65,-5.08 37.57,-5.16 40.5,-5.2C43.43,-5.24 46.75,-5.23 50,-5.25C53.25,-5.27 58.33,-5.29 60,-5.3Z" fill="#858585" filter="url(#b0_6)"/>
<path d="M60,4.01C58.33,3.99 53.25,3.93 50,3.9C46.75,3.87 43.88,3.88 40.5,3.8C37.12,3.72 31.95,3.57 29.7,3.4C27.45,3.23 27.7,3.12 27,2.8C26.3,2.48 26,2.13 25.5,1.5C25,0.87 24.08,-0.25 24,-1C23.92,-1.75 24.5,-2.52 25,-3C25.5,-3.48 25.77,-3.67 27,-3.9C28.23,-4.13 30.15,-4.27 32.4,-4.4C34.65,-4.53 37.57,-4.63 40.5,-4.7C43.43,-4.77 46.75,-4.77 50,-4.8C53.25,-4.83 58.33,-4.89 60,-4.91Z" fill="#a8a8a8" filter="url(#b0_9)"/>
<path d="M60,3.4C58.33,3.38 53.33,3.33 50,3.3C46.67,3.27 43,3.25 40,3.2C37,3.15 33.83,3.13 32,3C30.17,2.87 29,2.6 29,2.4C29,2.2 30.17,1.92 32,1.8C33.83,1.68 37,1.72 40,1.7C43,1.68 46.67,1.7 50,1.7C53.33,1.7 58.33,1.7 60,1.7Z" fill="#c7c7c7" filter="url(#b0_45)"/>
<ellipse cx="49.5" cy="2.75" rx="5" ry="0.34" fill="#e0e0e0" filter="url(#b0_3)"/>
<path d="M60,0.3C58.33,0.28 53.33,0.23 50,0.2C46.67,0.17 43,0.15 40,0.1C37,0.05 33.92,0.07 32,-0.1C30.08,-0.27 28.67,-0.62 28.5,-0.9C28.33,-1.18 30.08,-1.52 31,-1.8C31.92,-2.08 33.17,-2.3 34,-2.6C34.83,-2.9 35,-3.33 36,-3.6C37,-3.87 37.67,-4.07 40,-4.2C42.33,-4.33 46.67,-4.33 50,-4.4C53.33,-4.47 58.33,-4.57 60,-4.6Z" fill="#c7c7c7" filter="url(#b0_5)"/>
<ellipse cx="39" cy="-0.95" rx="5.5" ry="0.28" fill="#d6d6d6" filter="url(#b0_3)"/>
<path d="M60,-1.97C58.33,-2.02 52.67,-2.21 50,-2.3C47.33,-2.39 45.83,-2.43 44,-2.5C42.17,-2.57 40.17,-2.6 39,-2.7C37.83,-2.8 37,-2.95 37,-3.1C37,-3.25 37.83,-3.47 39,-3.6C40.17,-3.73 42.17,-3.82 44,-3.9C45.83,-3.98 47.33,-4.01 50,-4.1C52.67,-4.19 58.33,-4.38 60,-4.43Z" fill="#e0e0e0" filter="url(#b0_4)"/>
<ellipse cx="51" cy="-3.3" rx="4" ry="0.5" fill="#ebebeb" filter="url(#b0_4)"/>
</g></g>
<rect x="670.1" y="294.9" width="483" height="193.2" fill="none" stroke="#000" stroke-width="1.8"/>
<path d="M670.1,488.1 v5.5 M718.4,488.1 v3.5 M766.7,488.1 v5.5 M815,488.1 v3.5 M863.3,488.1 v5.5 M911.6,488.1 v3.5 M959.9,488.1 v5.5 M1008.2,488.1 v3.5 M1056.5,488.1 v5.5 M1104.8,488.1 v3.5 M1153.1,488.1 v5.5 M670.1,294.9 h-5.5 M670.1,319.05 h-3 M670.1,343.2 h-5.5 M670.1,367.35 h-3 M670.1,391.5 h-5.5 M670.1,415.65 h-3 M670.1,439.8 h-5.5 M670.1,463.95 h-3 M670.1,488.1 h-5.5" stroke="#000" stroke-width="1.5" fill="none"/>
<text x="675.9" y="281.6" class="ti">(e) <tspan class="i">v</tspan><tspan class="sub" dy="8">g</tspan><tspan dy="-8">=75 m/s, </tspan><tspan class="i">v</tspan><tspan class="sub" dy="8">j</tspan><tspan dy="-8">=10 m/s</tspan></text>
<rect x="1166.6" y="307.9" width="32.7" height="176.4" fill="url(#cb)" stroke="#000" stroke-width="2"/>
<text x="1212.8" y="491.5" class="t">0</text>
<text x="1212.8" y="432.7" class="t">60</text>
<text x="1212.8" y="373.9" class="t">120</text>
<text x="1212.8" y="315.1" class="t">180</text>
<path d="M1199.3,484.3 h5.5 M1199.3,425.5 h5.5 M1199.3,366.7 h5.5 M1199.3,307.9 h5.5" stroke="#000" stroke-width="1.6" fill="none"/>
<g transform="translate(1263.2,391.5) scale(9.66,-9.66)" clip-path="url(#cp)">
<g filter="url(#jet)">
<rect x="-8" y="-18" width="76" height="36" fill="#000000"/>
<path d="M60,10.21C58.33,10.18 53.25,10.07 50,10C46.75,9.93 43.43,9.88 40.5,9.8C37.57,9.72 34.65,9.62 32.4,9.5C30.15,9.38 28.23,9.22 27,9.1C25.77,8.98 25.82,8.95 25,8.8C24.18,8.65 22.98,8.4 22.1,8.2C21.22,8 20.52,7.83 19.7,7.6C18.88,7.37 18.03,7.04 17.2,6.8C16.37,6.56 15.52,6.32 14.7,6.15C13.88,5.98 13.12,5.92 12.3,5.8C11.48,5.67 10.62,5.58 9.8,5.4C8.98,5.22 8.22,5.03 7.4,4.7C6.58,4.38 5.72,3.9 4.9,3.45C4.08,3 3.15,2.42 2.5,2C1.85,1.57 1.37,1.21 1,0.9C0.63,0.59 0.3,0.4 0.3,0.15C0.3,-0.1 0.63,-0.3 1,-0.6C1.37,-0.9 1.85,-1.18 2.5,-1.65C3.15,-2.12 4.08,-2.91 4.9,-3.4C5.72,-3.89 6.58,-4.23 7.4,-4.6C8.22,-4.97 8.98,-5.29 9.8,-5.6C10.62,-5.91 11.48,-6.2 12.3,-6.45C13.12,-6.7 13.88,-6.92 14.7,-7.1C15.52,-7.28 16.37,-7.39 17.2,-7.55C18.03,-7.71 18.88,-7.91 19.7,-8.05C20.52,-8.19 21.22,-8.28 22.1,-8.4C22.98,-8.52 23.28,-8.64 25,-8.75C26.72,-8.86 29.82,-8.96 32.4,-9.05C34.98,-9.14 37.57,-9.23 40.5,-9.3C43.43,-9.37 46.75,-9.4 50,-9.45C53.25,-9.5 58.33,-9.58 60,-9.61Z" fill="#262626" filter="url(#b0_5)"/>
<path d="M60,9.21C58.33,9.17 53.25,9.04 50,8.95C46.75,8.86 43.43,8.83 40.5,8.7C37.57,8.57 34.65,8.33 32.4,8.15C30.15,7.97 28.73,7.79 27,7.6C25.27,7.41 23.63,7.18 22,7C20.37,6.82 18.42,6.66 17.2,6.5C15.98,6.34 15.52,6.18 14.7,6.05C13.88,5.92 13.12,5.83 12.3,5.7C11.48,5.58 10.62,5.49 9.8,5.3C8.98,5.11 8.22,4.88 7.4,4.55C6.58,4.22 5.72,3.75 4.9,3.3C4.08,2.85 3.13,2.27 2.5,1.85C1.87,1.43 1.43,1.08 1.1,0.8C0.77,0.52 0.5,0.37 0.5,0.15C0.5,-0.07 0.77,-0.22 1.1,-0.5C1.43,-0.78 1.87,-1.09 2.5,-1.55C3.13,-2.01 4.08,-2.77 4.9,-3.25C5.72,-3.73 6.58,-4.08 7.4,-4.45C8.22,-4.82 8.98,-5.14 9.8,-5.45C10.62,-5.76 11.48,-6.05 12.3,-6.3C13.12,-6.55 13.88,-6.77 14.7,-6.95C15.52,-7.13 16.37,-7.24 17.2,-7.4C18.03,-7.56 18.88,-7.77 19.7,-7.9C20.52,-8.03 21.22,-8.1 22.1,-8.2C22.98,-8.3 23.28,-8.4 25,-8.5C26.72,-8.6 29.82,-8.72 32.4,-8.8C34.98,-8.88 37.57,-8.93 40.5,-9C43.43,-9.07 46.75,-9.13 50,-9.2C53.25,-9.27 58.33,-9.38 60,-9.41Z" fill="#474747" filter="url(#b0_4)"/>
<path d="M60,6.1C58.33,6.1 53.25,6.1 50,6.1C46.75,6.1 43.43,6.1 40.5,6.1C37.57,6.1 34.65,6.12 32.4,6.1C30.15,6.08 28.73,6.05 27,6C25.27,5.95 23.63,5.88 22,5.8C20.37,5.72 18.42,5.63 17.2,5.55C15.98,5.47 15.52,5.39 14.7,5.3C13.88,5.21 13.12,5.14 12.3,5C11.48,4.86 10.62,4.68 9.8,4.45C8.98,4.22 8.22,3.94 7.4,3.6C6.58,3.26 5.72,2.82 4.9,2.4C4.08,1.98 3.08,1.48 2.5,1.1C1.92,0.73 1.4,0.47 1.4,0.15C1.4,-0.17 1.92,-0.39 2.5,-0.8C3.08,-1.21 4.08,-1.85 4.9,-2.3C5.72,-2.75 6.58,-3.13 7.4,-3.5C8.22,-3.87 8.98,-4.19 9.8,-4.5C10.62,-4.81 11.48,-5.1 12.3,-5.35C13.12,-5.6 13.88,-5.81 14.7,-6C15.52,-6.19 16.37,-6.33 17.2,-6.5C18.03,-6.67 18.88,-6.87 19.7,-7C20.52,-7.13 21.22,-7.21 22.1,-7.3C22.98,-7.39 23.28,-7.47 25,-7.55C26.72,-7.63 29.82,-7.72 32.4,-7.8C34.98,-7.88 37.57,-7.93 40.5,-8C43.43,-8.07 46.75,-8.13 50,-8.2C53.25,-8.27 58.33,-8.38 60,-8.41Z" fill="#6b6b6b" filter="url(#b0_5)"/>
<path d="M5.2,2.4C5.42,2.82 6.7,3.45 7.5,3.8C8.3,4.15 9.2,4.43 10,4.5C10.8,4.57 11.97,4.58 12.3,4.2C12.63,3.82 12.25,2.8 12,2.2C11.75,1.6 11.38,0.85 10.8,0.6C10.22,0.35 9.27,0.58 8.5,0.7C7.73,0.82 6.75,1.02 6.2,1.3C5.65,1.58 4.98,1.98 5.2,2.4Z" fill="#474747" filter="url(#b0_6)"/>
<path d="M1.4,0.1C1.4,0.47 2.4,0.87 3,1C3.6,1.13 4.42,1.12 5,0.9C5.58,0.68 6.5,0.08 6.5,-0.3C6.5,-0.68 5.58,-1.25 5,-1.4C4.42,-1.55 3.6,-1.45 3,-1.2C2.4,-0.95 1.4,-0.27 1.4,0.1Z" fill="#858585" filter="url(#b0_45)"/>
<path d="M60,5.2C58.33,5.2 53.33,5.2 50,5.2C46.67,5.2 43.33,5.18 40,5.2C36.67,5.22 33,5.28 30,5.3C27,5.32 24.33,5.33 22,5.3C19.67,5.27 17.5,5.22 16,5.1C14.5,4.98 13.67,4.87 13,4.6C12.33,4.33 12.08,3.93 12,3.5C11.92,3.07 12.25,2.5 12.5,2C12.75,1.5 13.25,1 13.5,0.5C13.75,0 13.83,-0.5 14,-1C14.17,-1.5 14.33,-2 14.5,-2.5C14.67,-3 14.75,-3.55 15,-4C15.25,-4.45 15.5,-4.87 16,-5.2C16.5,-5.53 17.07,-5.78 18,-6C18.93,-6.22 20.1,-6.35 21.6,-6.5C23.1,-6.65 25.2,-6.81 27,-6.9C28.8,-6.99 30.15,-7 32.4,-7.05C34.65,-7.1 37.57,-7.14 40.5,-7.2C43.43,-7.26 46.75,-7.33 50,-7.4C53.25,-7.47 58.33,-7.58 60,-7.61Z" fill="#808080" filter="url(#b0_7)"/>
<ellipse cx="49" cy="7" rx="6" ry="0.9" fill="#5c5c5c" filter="url(#b0_6)"/>
<path d="M60,4.8C58.33,4.82 53.33,4.87 50,4.9C46.67,4.93 43,4.99 40,5C37,5.01 34.17,5.05 32,4.95C29.83,4.85 28.28,4.68 27,4.4C25.72,4.12 24.3,3.63 24.3,3.3C24.3,2.97 25.72,2.62 27,2.4C28.28,2.18 29.83,2.07 32,2C34.17,1.93 37,1.98 40,2C43,2.02 46.67,2.07 50,2.1C53.33,2.13 58.33,2.18 60,2.2Z" fill="#a8a8a8" filter="url(#b0_5)"/>
<path d="M60,4.05C58.33,4.09 52.33,4.24 50,4.3C47.67,4.36 47.67,4.37 46,4.4C44.33,4.43 42.33,4.5 40,4.5C37.67,4.5 33.83,4.52 32,4.4C30.17,4.28 29.75,4.02 29,3.8C28.25,3.58 27.33,3.28 27.5,3.1C27.67,2.92 28.58,2.78 30,2.7C31.42,2.62 33.67,2.62 36,2.6C38.33,2.58 41.67,2.57 44,2.6C46.33,2.63 47.33,2.71 50,2.8C52.67,2.89 58.33,3.08 60,3.13Z" fill="#c7c7c7" filter="url(#b0_4)"/>
<path d="M29.7,2.9C29.53,3.05 30.95,3.48 32,3.7C33.05,3.92 34.5,4.13 36,4.2C37.5,4.27 39.67,4.18 41,4.1C42.33,4.02 43.13,3.85 44,3.7C44.87,3.55 46.37,3.33 46.2,3.2C46.03,3.08 44.37,2.99 43,2.95C41.63,2.91 39.67,2.98 38,2.95C36.33,2.93 34.38,2.81 33,2.8C31.62,2.79 29.87,2.75 29.7,2.9Z" fill="#dedede" filter="url(#b0_35)"/>
<path d="M16.8,-1C16.8,-0.58 18.63,-0.07 20,0.1C21.37,0.27 23.33,0.15 25,0C26.67,-0.15 28.83,-0.5 30,-0.8C31.17,-1.1 32,-1.47 32,-1.8C32,-2.13 31.17,-2.6 30,-2.8C28.83,-3 26.67,-3.07 25,-3C23.33,-2.93 21.37,-2.73 20,-2.4C18.63,-2.07 16.8,-1.42 16.8,-1Z" fill="#a3a3a3" filter="url(#b0_6)"/>
<ellipse cx="20.3" cy="-0.35" rx="1.6" ry="0.32" fill="#bdbdbd" filter="url(#b0_3)"/>
<path d="M60,-1.7C58.33,-1.7 52.67,-1.7 50,-1.7C47.33,-1.7 46,-1.72 44,-1.7C42,-1.68 40,-1.63 38,-1.6C36,-1.57 33.83,-1.48 32,-1.5C30.17,-1.52 28.33,-1.5 27,-1.7C25.67,-1.9 24.67,-2.32 24,-2.7C23.33,-3.08 22.83,-3.57 23,-4C23.17,-4.43 24,-4.95 25,-5.3C26,-5.65 27.33,-5.91 29,-6.1C30.67,-6.29 32.83,-6.37 35,-6.45C37.17,-6.53 39.5,-6.56 42,-6.6C44.5,-6.64 47,-6.66 50,-6.7C53,-6.74 58.33,-6.8 60,-6.83Z" fill="#a8a8a8" filter="url(#b0_6)"/>
<path d="M60,-2.4C58.33,-2.4 53,-2.4 50,-2.4C47,-2.4 44.33,-2.42 42,-2.4C39.67,-2.38 38,-2.3 36,-2.3C34,-2.3 31.5,-2.28 30,-2.4C28.5,-2.52 27.67,-2.73 27,-3C26.33,-3.27 25.83,-3.67 26,-4C26.17,-4.33 26.83,-4.73 28,-5C29.17,-5.27 31,-5.45 33,-5.6C35,-5.75 37.17,-5.83 40,-5.9C42.83,-5.97 46.67,-5.97 50,-6C53.33,-6.03 58.33,-6.08 60,-6.1Z" fill="#c7c7c7" filter="url(#b0_5)"/>
<path d="M60,-4.05C58.33,-3.92 52.33,-3.47 50,-3.3C47.67,-3.12 47.67,-3.03 46,-3C44.33,-2.97 41.83,-3.1 40,-3.1C38.17,-3.1 36.33,-2.98 35,-3C33.67,-3.02 32.7,-3.05 32,-3.2C31.3,-3.35 30.63,-3.65 30.8,-3.9C30.97,-4.15 31.8,-4.5 33,-4.7C34.2,-4.9 36.33,-4.97 38,-5.1C39.67,-5.23 41.5,-5.38 43,-5.5C44.5,-5.62 45.83,-5.77 47,-5.8C48.17,-5.83 47.83,-5.77 50,-5.7C52.17,-5.63 58.33,-5.42 60,-5.37Z" fill="#e0e0e0" filter="url(#b0_4)"/>
<path d="M34.6,-4C34.77,-3.85 35.77,-3.65 37,-3.6C38.23,-3.55 40.5,-3.68 42,-3.7C43.5,-3.72 45.08,-3.63 46,-3.7C46.92,-3.77 47.67,-3.95 47.5,-4.1C47.33,-4.25 46.25,-4.5 45,-4.6C43.75,-4.7 41.5,-4.72 40,-4.7C38.5,-4.68 36.9,-4.62 36,-4.5C35.1,-4.38 34.43,-4.15 34.6,-4Z" fill="#f5f5f5" filter="url(#b0_35)"/>
</g></g>
<rect x="1263.2" y="294.9" width="483" height="193.2" fill="none" stroke="#000" stroke-width="1.8"/>
<path d="M1263.2,488.1 v5.5 M1311.5,488.1 v3.5 M1359.8,488.1 v5.5 M1408.1,488.1 v3.5 M1456.4,488.1 v5.5 M1504.7,488.1 v3.5 M1553,488.1 v5.5 M1601.3,488.1 v3.5 M1649.6,488.1 v5.5 M1697.9,488.1 v3.5 M1746.2,488.1 v5.5 M1263.2,294.9 h-5.5 M1263.2,319.05 h-3 M1263.2,343.2 h-5.5 M1263.2,367.35 h-3 M1263.2,391.5 h-5.5 M1263.2,415.65 h-3 M1263.2,439.8 h-5.5 M1263.2,463.95 h-3 M1263.2,488.1 h-5.5" stroke="#000" stroke-width="1.5" fill="none"/>
<text x="1269" y="281.6" class="ti">(f) <tspan class="i">v</tspan><tspan class="sub" dy="8">g</tspan><tspan dy="-8">=75 m/s, </tspan><tspan class="i">v</tspan><tspan class="sub" dy="8">j</tspan><tspan dy="-8">=15 m/s</tspan></text>
<rect x="1759.7" y="307.9" width="32.7" height="176.4" fill="url(#cb)" stroke="#000" stroke-width="2"/>
<text x="1805.9" y="491.5" class="t">0</text>
<text x="1805.9" y="432.7" class="t">80</text>
<text x="1805.9" y="373.9" class="t">160</text>
<text x="1805.9" y="315.1" class="t">240</text>
<path d="M1792.4,484.3 h5.5 M1792.4,425.5 h5.5 M1792.4,366.7 h5.5 M1792.4,307.9 h5.5" stroke="#000" stroke-width="1.6" fill="none"/>
<g transform="translate(75.8,645.5) scale(9.66,-9.66)" clip-path="url(#cp)">
<g filter="url(#jet)">
<rect x="-8" y="-18" width="76" height="36" fill="#000000"/>
<ellipse cx="17.5" cy="-2" rx="3" ry="1" fill="#121212" filter="url(#b0_6)"/>
<path d="M60,3.35C58.33,3.36 53.25,3.38 50,3.4C46.75,3.42 43.43,3.43 40.5,3.45C37.57,3.47 34.65,3.53 32.4,3.5C30.15,3.47 28.8,3.38 27,3.25C25.2,3.12 23.03,2.91 21.6,2.7C20.17,2.49 19.2,2.25 18.4,2C17.6,1.75 16.87,1.47 16.8,1.2C16.73,0.93 17.13,0.57 18,0.4C18.87,0.23 20,0.27 22,0.2C24,0.13 27,0.08 30,0C33,-0.08 36.67,-0.22 40,-0.3C43.33,-0.38 46.67,-0.43 50,-0.5C53.33,-0.57 58.33,-0.67 60,-0.7Z" fill="#242424" filter="url(#b0_5)"/>
<path d="M60,3.02C58.33,3.03 52.67,3.08 50,3.1C47.33,3.12 45.83,3.17 44,3.15C42.17,3.13 40.67,3.09 39,3C37.33,2.91 35.5,2.68 34,2.6C32.5,2.52 31.08,2.6 30,2.5C28.92,2.4 28.08,2.22 27.5,2C26.92,1.78 26.42,1.45 26.5,1.2C26.58,0.95 26.75,0.65 28,0.5C29.25,0.35 31.33,0.38 34,0.3C36.67,0.22 41.33,0.1 44,0C46.67,-0.1 47.33,-0.17 50,-0.3C52.67,-0.43 58.33,-0.72 60,-0.8Z" fill="#363636" filter="url(#b0_6)"/>
<path d="M60,3C58.33,3 52.33,3 50,3C47.67,3 47.5,3.03 46,3C44.5,2.97 42.25,2.97 41,2.8C39.75,2.63 38.67,2.33 38.5,2C38.33,1.67 38.75,1.08 40,0.8C41.25,0.52 44.33,0.42 46,0.3C47.67,0.18 47.67,0.22 50,0.1C52.33,-0.02 58.33,-0.32 60,-0.4Z" fill="#424242" filter="url(#b0_6)"/>
<path d="M28.8,1C28.83,1.23 29.75,1.75 30.2,1.9C30.65,2.05 30.95,2 31.5,1.9C32.05,1.8 32.78,1.48 33.5,1.3C34.22,1.12 35.88,0.93 35.8,0.8C35.72,0.67 33.97,0.55 33,0.5C32.03,0.45 30.7,0.42 30,0.5C29.3,0.58 28.77,0.77 28.8,1Z" fill="#4f4f4f" filter="url(#b0_4)"/>
<ellipse cx="36.3" cy="1.8" rx="1.5" ry="0.5" fill="#2e2e2e" filter="url(#b0_4)"/>
<ellipse cx="50" cy="2.75" rx="2.2" ry="0.45" fill="#616161" filter="url(#b0_4)"/>
<ellipse cx="42" cy="-2.25" rx="14" ry="0.7" fill="#1c1c1c" filter="url(#b0_5)"/>
<path d="M60,0.3C58.33,0.32 53.33,0.37 50,0.4C46.67,0.43 43.33,0.47 40,0.5C36.67,0.53 32.67,0.61 30,0.6C27.33,0.59 25.5,0.53 24,0.45C22.5,0.38 21.72,0.25 21,0.15C20.28,0.05 19.7,-0.04 19.7,-0.15C19.7,-0.26 20.28,-0.39 21,-0.5C21.72,-0.61 22.5,-0.68 24,-0.8C25.5,-0.92 27.33,-1.06 30,-1.2C32.67,-1.34 36.67,-1.52 40,-1.65C43.33,-1.77 46.67,-1.85 50,-1.95C53.33,-2.05 58.33,-2.2 60,-2.25Z" fill="#454545" filter="url(#b0_4)"/>
<path d="M60,-0.6C58.33,-0.58 53.33,-0.5 50,-0.45C46.67,-0.4 42.83,-0.35 40,-0.3C37.17,-0.25 34.58,-0.16 33,-0.15C31.42,-0.14 31.17,-0.19 30.5,-0.25C29.83,-0.31 29,-0.4 29,-0.5C29,-0.6 29.83,-0.76 30.5,-0.85C31.17,-0.94 31.42,-0.97 33,-1.05C34.58,-1.13 37.17,-1.25 40,-1.35C42.83,-1.45 46.67,-1.55 50,-1.65C53.33,-1.75 58.33,-1.9 60,-1.95Z" fill="#8a8a8a" filter="url(#b0_35)"/>
<path d="M60,-0.75C58.33,-0.75 52.5,-0.75 50,-0.75C47.5,-0.75 46.5,-0.73 45,-0.75C43.5,-0.77 41.95,-0.81 41,-0.85C40.05,-0.89 39.3,-0.95 39.3,-1C39.3,-1.05 40.05,-1.11 41,-1.15C41.95,-1.19 43.5,-1.22 45,-1.25C46.5,-1.28 47.5,-1.3 50,-1.35C52.5,-1.4 58.33,-1.52 60,-1.55Z" fill="#b2b2b2" filter="url(#b0_25)"/>
<path d="M60,-3C58.33,-2.98 53.33,-2.93 50,-2.9C46.67,-2.87 43.33,-2.83 40,-2.8C36.67,-2.77 32.67,-2.73 30,-2.7C27.33,-2.67 25.67,-2.67 24,-2.6C22.33,-2.53 21.07,-2.37 20,-2.3C18.93,-2.23 17.6,-2.1 17.6,-2.2C17.6,-2.3 18.93,-2.72 20,-2.9C21.07,-3.08 22.33,-3.17 24,-3.3C25.67,-3.43 27.33,-3.57 30,-3.7C32.67,-3.83 36.67,-3.97 40,-4.1C43.33,-4.22 46.67,-4.33 50,-4.45C53.33,-4.57 58.33,-4.74 60,-4.8Z" fill="#2b2b2b" filter="url(#b0_4)"/>
<path d="M60,-3.05C58.33,-3.03 53.33,-2.98 50,-2.95C46.67,-2.92 43,-2.88 40,-2.85C37,-2.83 33.83,-2.79 32,-2.8C30.17,-2.81 29.75,-2.83 29,-2.9C28.25,-2.97 27.5,-3.08 27.5,-3.2C27.5,-3.32 28.25,-3.49 29,-3.6C29.75,-3.71 30.17,-3.76 32,-3.85C33.83,-3.94 37,-4.05 40,-4.15C43,-4.25 46.67,-4.35 50,-4.45C53.33,-4.55 58.33,-4.7 60,-4.75Z" fill="#4a4a4a" filter="url(#b0_35)"/>
<path d="M60,-3.3C58.33,-3.3 53,-3.3 50,-3.3C47,-3.3 44.33,-3.31 42,-3.3C39.67,-3.29 37.67,-3.25 36,-3.25C34.33,-3.25 33,-3.27 32,-3.3C31,-3.33 30,-3.4 30,-3.45C30,-3.5 31,-3.55 32,-3.6C33,-3.65 34.33,-3.7 36,-3.75C37.67,-3.8 39.67,-3.84 42,-3.9C44.33,-3.96 47,-4.02 50,-4.1C53,-4.17 58.33,-4.31 60,-4.35Z" fill="#5e5e5e" filter="url(#b0_3)"/>
<ellipse cx="50.5" cy="-3.7" rx="5" ry="0.3" fill="#737373" filter="url(#b0_3)"/>
</g></g>
<rect x="75.8" y="548.9" width="483" height="193.2" fill="none" stroke="#000" stroke-width="1.8"/>
<path d="M75.8,742.1 v5.5 M124.1,742.1 v3.5 M172.4,742.1 v5.5 M220.7,742.1 v3.5 M269,742.1 v5.5 M317.3,742.1 v3.5 M365.6,742.1 v5.5 M413.9,742.1 v3.5 M462.2,742.1 v5.5 M510.5,742.1 v3.5 M558.8,742.1 v5.5 M75.8,548.9 h-5.5 M75.8,573.05 h-3 M75.8,597.2 h-5.5 M75.8,621.35 h-3 M75.8,645.5 h-5.5 M75.8,669.65 h-3 M75.8,693.8 h-5.5 M75.8,717.95 h-3 M75.8,742.1 h-5.5" stroke="#000" stroke-width="1.5" fill="none"/>
<text x="66.5" y="555.1" text-anchor="end" class="t">10</text>
<text x="66.5" y="603.4" text-anchor="end" class="t">5</text>
<text x="66.5" y="651.7" text-anchor="end" class="t">0</text>
<text x="66.5" y="700" text-anchor="end" class="t">-5</text>
<text x="66.5" y="748.3" text-anchor="end" class="t">-10</text>
<text x="75.8" y="767.5" text-anchor="middle" class="t">0</text>
<text x="172.4" y="767.5" text-anchor="middle" class="t">10</text>
<text x="269" y="767.5" text-anchor="middle" class="t">20</text>
<text x="365.6" y="767.5" text-anchor="middle" class="t">30</text>
<text x="462.2" y="767.5" text-anchor="middle" class="t">40</text>
<text x="558.8" y="767.5" text-anchor="middle" class="t">50</text>
<text x="81.6" y="535.6" class="ti">(g) <tspan class="i">v</tspan><tspan class="sub" dy="8">g</tspan><tspan dy="-8">=100 m/s, </tspan><tspan class="i">v</tspan><tspan class="sub" dy="8">j</tspan><tspan dy="-8">=5 m/s</tspan></text>
<rect x="572.3" y="561.9" width="32.7" height="176.4" fill="url(#cb)" stroke="#000" stroke-width="2"/>
<text x="618.5" y="745.5" class="t">0</text>
<text x="618.5" y="686.7" class="t">3</text>
<text x="618.5" y="627.9" class="t">7</text>
<text x="618.5" y="569.1" class="t">10</text>
<path d="M605,738.3 h5.5 M605,679.5 h5.5 M605,620.7 h5.5 M605,561.9 h5.5" stroke="#000" stroke-width="1.6" fill="none"/>
<g transform="translate(670.1,645.5) scale(9.66,-9.66)" clip-path="url(#cp)">
<g filter="url(#jet)">
<rect x="-8" y="-18" width="76" height="36" fill="#000000"/>
<path d="M60,5.45C58.33,5.45 53.25,5.45 50,5.45C46.75,5.45 43.43,5.43 40.5,5.45C37.57,5.47 34.65,5.55 32.4,5.6C30.15,5.65 28.8,5.78 27,5.75C25.2,5.72 23.18,5.58 21.6,5.4C20.02,5.23 18.85,4.88 17.5,4.7C16.15,4.52 14.62,4.45 13.5,4.3C12.38,4.15 11.7,4.02 10.8,3.8C9.9,3.58 9,3.32 8.1,3C7.2,2.68 6.15,2.25 5.4,1.9C4.65,1.55 3.93,1.17 3.6,0.9C3.27,0.63 3.1,0.56 3.4,0.3C3.7,0.04 4.62,-0.31 5.4,-0.65C6.18,-0.99 7.2,-1.41 8.1,-1.75C9,-2.09 9.9,-2.43 10.8,-2.7C11.7,-2.97 12.38,-3.11 13.5,-3.35C14.62,-3.59 16.15,-3.88 17.5,-4.15C18.85,-4.43 20.02,-4.74 21.6,-5C23.18,-5.26 25.2,-5.5 27,-5.7C28.8,-5.9 30.15,-6 32.4,-6.2C34.65,-6.4 37.57,-6.7 40.5,-6.9C43.43,-7.1 46.75,-7.23 50,-7.4C53.25,-7.57 58.33,-7.84 60,-7.93Z" fill="#262626" filter="url(#b0_6)"/>
<path d="M60,5.35C58.33,5.35 53.25,5.35 50,5.35C46.75,5.35 43.43,5.32 40.5,5.35C37.57,5.38 34.65,5.47 32.4,5.5C30.15,5.53 28.8,5.63 27,5.55C25.2,5.47 23.18,5.24 21.6,5C20.02,4.76 18.85,4.35 17.5,4.1C16.15,3.85 14.5,3.7 13.5,3.5C12.5,3.3 12.03,3.22 11.5,2.9C10.97,2.58 10.77,2.06 10.3,1.6C9.83,1.14 8.7,0.62 8.7,0.15C8.7,-0.32 9.78,-0.79 10.3,-1.2C10.82,-1.61 11.27,-2.01 11.8,-2.3C12.33,-2.59 12.55,-2.68 13.5,-2.95C14.45,-3.22 16.15,-3.59 17.5,-3.9C18.85,-4.21 20.02,-4.52 21.6,-4.8C23.18,-5.08 25.2,-5.38 27,-5.6C28.8,-5.82 30.15,-5.89 32.4,-6.1C34.65,-6.31 37.57,-6.64 40.5,-6.85C43.43,-7.06 46.75,-7.18 50,-7.35C53.25,-7.52 58.33,-7.79 60,-7.88Z" fill="#454545" filter="url(#b0_5)"/>
<path d="M60,4.29C58.33,4.32 53.25,4.4 50,4.45C46.75,4.5 43.43,4.57 40.5,4.6C37.57,4.62 34.65,4.67 32.4,4.6C30.15,4.53 28.23,4.32 27,4.2C25.77,4.08 26.12,4.05 25,3.9C23.88,3.75 21.98,3.52 20.3,3.3C18.62,3.08 16.22,2.8 14.9,2.6C13.58,2.4 12.95,2.37 12.4,2.1C11.85,1.83 11.78,1.35 11.6,1C11.42,0.65 11.2,0.32 11.3,0C11.4,-0.32 11.83,-0.61 12.2,-0.9C12.57,-1.19 12.83,-1.45 13.5,-1.75C14.17,-2.05 15.07,-2.41 16.2,-2.7C17.33,-2.99 18.83,-3.23 20.3,-3.5C21.77,-3.77 23.88,-4.08 25,-4.3C26.12,-4.52 25.77,-4.62 27,-4.8C28.23,-4.98 30.15,-5.18 32.4,-5.4C34.65,-5.62 37.57,-5.9 40.5,-6.1C43.43,-6.3 46.75,-6.43 50,-6.6C53.25,-6.77 58.33,-7.04 60,-7.13Z" fill="#6b6b6b" filter="url(#b0_5)"/>
<path d="M60,3.99C58.33,4.01 53.25,4.07 50,4.1C46.75,4.13 43.43,4.2 40.5,4.2C37.57,4.2 34.65,4.18 32.4,4.1C30.15,4.02 28.8,3.88 27,3.7C25.2,3.52 23.27,3.27 21.6,3C19.93,2.73 18.1,2.43 17,2.1C15.9,1.77 15.42,1.35 15,1C14.58,0.65 14.5,0.32 14.5,0C14.5,-0.32 14.58,-0.57 15,-0.9C15.42,-1.23 15.9,-1.62 17,-2C18.1,-2.38 19.93,-2.86 21.6,-3.2C23.27,-3.54 25.2,-3.82 27,-4.05C28.8,-4.27 30.15,-4.38 32.4,-4.55C34.65,-4.72 37.57,-4.91 40.5,-5.05C43.43,-5.19 46.75,-5.28 50,-5.4C53.25,-5.52 58.33,-5.71 60,-5.77Z" fill="#858585" filter="url(#b0_5)"/>
<path d="M60,4C58.33,4 53.25,4 50,4C46.75,4 43.43,4.05 40.5,4C37.57,3.95 34.65,3.83 32.4,3.7C30.15,3.57 28.35,3.38 27,3.2C25.65,3.02 24.8,2.8 24.3,2.6C23.8,2.4 23.55,2.17 24,2C24.45,1.83 25.6,1.68 27,1.6C28.4,1.52 30.15,1.52 32.4,1.5C34.65,1.48 37.57,1.5 40.5,1.5C43.43,1.5 46.75,1.5 50,1.5C53.25,1.5 58.33,1.5 60,1.5Z" fill="#a8a8a8" filter="url(#b0_5)"/>
<path d="M60,3.7C58.33,3.7 52.67,3.7 50,3.7C47.33,3.7 45.83,3.73 44,3.7C42.17,3.67 40.17,3.65 39,3.5C37.83,3.35 37,3.05 37,2.8C37,2.55 37.83,2.17 39,2C40.17,1.83 42.17,1.83 44,1.8C45.83,1.77 47.33,1.8 50,1.8C52.67,1.8 58.33,1.8 60,1.8Z" fill="#bababa" filter="url(#b0_5)"/>
<path d="M60,1.1C58.33,1.08 53.33,1.03 50,1C46.67,0.97 43.33,0.92 40,0.9C36.67,0.88 32.67,0.92 30,0.9C27.33,0.88 25.67,0.85 24,0.8C22.33,0.75 21.17,0.7 20,0.6C18.83,0.5 17.42,0.38 17,0.2C16.58,0.02 17.18,-0.32 17.5,-0.5C17.82,-0.68 18.22,-0.7 18.9,-0.9C19.58,-1.1 20.25,-1.35 21.6,-1.7C22.95,-2.05 25.2,-2.65 27,-3C28.8,-3.35 30.15,-3.56 32.4,-3.8C34.65,-4.04 37.57,-4.28 40.5,-4.45C43.43,-4.62 46.75,-4.71 50,-4.85C53.25,-4.99 58.33,-5.2 60,-5.27Z" fill="#a8a8a8" filter="url(#b0_5)"/>
<path d="M60,0.6C58.33,0.6 53.33,0.6 50,0.6C46.67,0.6 43.33,0.6 40,0.6C36.67,0.6 32.5,0.62 30,0.6C27.5,0.58 26.25,0.6 25,0.5C23.75,0.4 22.67,0.23 22.5,0C22.33,-0.23 23.25,-0.58 24,-0.9C24.75,-1.22 25.6,-1.55 27,-1.9C28.4,-2.25 30.15,-2.68 32.4,-3C34.65,-3.32 37.57,-3.58 40.5,-3.8C43.43,-4.02 46.75,-4.13 50,-4.3C53.25,-4.47 58.33,-4.74 60,-4.83Z" fill="#c4c4c4" filter="url(#b0_45)"/>
<path d="M23.8,-0.2C23.72,-0.03 24.47,0.22 25,0.3C25.53,0.38 26.22,0.35 27,0.25C27.78,0.15 29.53,-0.13 29.7,-0.3C29.87,-0.47 28.7,-0.68 28,-0.75C27.3,-0.82 26.2,-0.84 25.5,-0.75C24.8,-0.66 23.88,-0.38 23.8,-0.2Z" fill="#e3e3e3" filter="url(#b0_3)"/>
<path d="M60,0.02C58.33,0.03 52.67,0.08 50,0.1C47.33,0.12 46,0.15 44,0.15C42,0.15 39.5,0.16 38,0.1C36.5,0.04 35.75,-0.07 35,-0.2C34.25,-0.33 33.42,-0.52 33.5,-0.7C33.58,-0.88 34.58,-1.12 35.5,-1.3C36.42,-1.48 37.75,-1.63 39,-1.8C40.25,-1.97 41.67,-2.18 43,-2.3C44.33,-2.42 45.83,-2.48 47,-2.5C48.17,-2.52 47.83,-2.47 50,-2.4C52.17,-2.33 58.33,-2.12 60,-2.07Z" fill="#d9d9d9" filter="url(#b0_45)"/>
<ellipse cx="41" cy="-0.8" rx="2.5" ry="0.4" fill="#e3e3e3" filter="url(#b0_35)"/>
<ellipse cx="46" cy="-1.75" rx="2.2" ry="0.4" fill="#e6e6e6" filter="url(#b0_35)"/>
<path d="M60,-2.9C58.33,-2.94 52.33,-3.09 50,-3.15C47.67,-3.21 47.08,-3.19 46,-3.25C44.92,-3.31 43.5,-3.42 43.5,-3.5C43.5,-3.58 44.92,-3.68 46,-3.75C47.08,-3.82 47.67,-3.81 50,-3.9C52.33,-3.99 58.33,-4.21 60,-4.27Z" fill="#e6e6e6" filter="url(#b0_25)"/>
</g></g>
<rect x="670.1" y="548.9" width="483" height="193.2" fill="none" stroke="#000" stroke-width="1.8"/>
<path d="M670.1,742.1 v5.5 M718.4,742.1 v3.5 M766.7,742.1 v5.5 M815,742.1 v3.5 M863.3,742.1 v5.5 M911.6,742.1 v3.5 M959.9,742.1 v5.5 M1008.2,742.1 v3.5 M1056.5,742.1 v5.5 M1104.8,742.1 v3.5 M1153.1,742.1 v5.5 M670.1,548.9 h-5.5 M670.1,573.05 h-3 M670.1,597.2 h-5.5 M670.1,621.35 h-3 M670.1,645.5 h-5.5 M670.1,669.65 h-3 M670.1,693.8 h-5.5 M670.1,717.95 h-3 M670.1,742.1 h-5.5" stroke="#000" stroke-width="1.5" fill="none"/>
<text x="670.1" y="767.5" text-anchor="middle" class="t">0</text>
<text x="766.7" y="767.5" text-anchor="middle" class="t">10</text>
<text x="863.3" y="767.5" text-anchor="middle" class="t">20</text>
<text x="959.9" y="767.5" text-anchor="middle" class="t">30</text>
<text x="1056.5" y="767.5" text-anchor="middle" class="t">40</text>
<text x="1153.1" y="767.5" text-anchor="middle" class="t">50</text>
<text x="675.9" y="535.6" class="ti">(h) <tspan class="i">v</tspan><tspan class="sub" dy="8">g</tspan><tspan dy="-8">=100 m/s, </tspan><tspan class="i">v</tspan><tspan class="sub" dy="8">j</tspan><tspan dy="-8">=10 m/s</tspan></text>
<rect x="1166.6" y="561.9" width="32.7" height="176.4" fill="url(#cb)" stroke="#000" stroke-width="2"/>
<text x="1212.8" y="745.5" class="t">0</text>
<text x="1212.8" y="686.7" class="t">20</text>
<text x="1212.8" y="627.9" class="t">40</text>
<text x="1212.8" y="569.1" class="t">60</text>
<path d="M1199.3,738.3 h5.5 M1199.3,679.5 h5.5 M1199.3,620.7 h5.5 M1199.3,561.9 h5.5" stroke="#000" stroke-width="1.6" fill="none"/>
<g transform="translate(1263.2,645.5) scale(9.66,-9.66)" clip-path="url(#cp)">
<g filter="url(#jet)">
<rect x="-8" y="-18" width="76" height="36" fill="#000000"/>
<path d="M24,5.6C25,5.87 27.83,6.37 30,6.6C32.17,6.83 34.83,6.85 37,7C39.17,7.15 40.83,7.28 43,7.5C45.17,7.72 47.5,8.02 50,8.3C52.5,8.58 56.67,9.75 58,9.2C59.33,8.65 63.67,5.7 58,5C52.33,4.3 29.67,4.9 24,5C18.33,5.1 23,5.33 24,5.6Z" fill="#262626" filter="url(#b0_7)"/>
<ellipse cx="2.5" cy="0.25" rx="1.8" ry="1" fill="#1f1f1f" filter="url(#b0_5)"/>
<path d="M60,6.1C58.33,6.1 52.8,6.1 50,6.1C47.2,6.1 45.23,6.1 43.2,6.1C41.17,6.1 39.6,6.11 37.8,6.1C36,6.09 34.53,6.07 32.4,6.05C30.27,6.03 27.12,6.08 25,6C22.88,5.92 21.42,5.75 19.7,5.6C17.98,5.45 15.93,5.24 14.7,5.1C13.47,4.96 13.12,4.89 12.3,4.75C11.48,4.61 10.62,4.44 9.8,4.25C8.98,4.06 8.22,3.88 7.4,3.6C6.58,3.32 5.6,2.92 4.9,2.55C4.2,2.18 3.62,1.77 3.2,1.4C2.78,1.02 2.4,0.63 2.4,0.3C2.4,-0.03 2.78,-0.31 3.2,-0.6C3.62,-0.89 4.2,-1.11 4.9,-1.45C5.6,-1.79 6.58,-2.31 7.4,-2.65C8.22,-2.99 8.98,-3.23 9.8,-3.5C10.62,-3.77 11.48,-4.03 12.3,-4.25C13.12,-4.47 13.47,-4.59 14.7,-4.85C15.93,-5.11 17.98,-5.52 19.7,-5.8C21.42,-6.08 22.88,-6.28 25,-6.5C27.12,-6.72 30.27,-6.98 32.4,-7.15C34.53,-7.33 36,-7.42 37.8,-7.55C39.6,-7.68 41.17,-7.79 43.2,-7.95C45.23,-8.11 47.2,-8.27 50,-8.5C52.8,-8.73 58.33,-9.17 60,-9.31Z" fill="#424242" filter="url(#b0_5)"/>
<path d="M60,5.35C58.33,5.35 53.7,5.35 50,5.35C46.3,5.35 41.13,5.39 37.8,5.35C34.47,5.31 32.13,5.19 30,5.1C27.87,5.01 26.72,4.98 25,4.8C23.28,4.62 21.42,4.3 19.7,4C17.98,3.7 15.93,3.25 14.7,3C13.47,2.75 13.12,2.7 12.3,2.5C11.48,2.3 10.62,2.05 9.8,1.8C8.98,1.55 8.08,1.3 7.4,1C6.72,0.7 5.7,0.33 5.7,0C5.7,-0.33 6.72,-0.68 7.4,-1C8.08,-1.32 8.98,-1.63 9.8,-1.9C10.62,-2.17 11.48,-2.37 12.3,-2.6C13.12,-2.83 13.47,-3.02 14.7,-3.3C15.93,-3.58 17.98,-4.01 19.7,-4.3C21.42,-4.59 22.88,-4.82 25,-5.05C27.12,-5.28 30.27,-5.56 32.4,-5.7C34.53,-5.84 34.87,-5.78 37.8,-5.9C40.73,-6.02 46.3,-6.25 50,-6.4C53.7,-6.55 58.33,-6.74 60,-6.81Z" fill="#696969" filter="url(#b0_6)"/>
<path d="M60,4.9C58.33,4.9 53.7,4.9 50,4.9C46.3,4.9 41.13,4.95 37.8,4.9C34.47,4.85 32.13,4.73 30,4.6C27.87,4.47 26.72,4.35 25,4.1C23.28,3.85 21.37,3.53 19.7,3.1C18.03,2.67 16.12,2.02 15,1.5C13.88,0.98 13,0.58 13,0C13,-0.58 13.88,-1.42 15,-2C16.12,-2.58 18.03,-3.1 19.7,-3.5C21.37,-3.9 22.88,-4.14 25,-4.4C27.12,-4.66 30.27,-4.92 32.4,-5.05C34.53,-5.18 34.87,-5.13 37.8,-5.2C40.73,-5.27 46.3,-5.37 50,-5.45C53.7,-5.53 58.33,-5.62 60,-5.65Z" fill="#808080" filter="url(#b0_6)"/>
<path d="M60,5.05C58.33,5.03 53.33,4.98 50,4.95C46.67,4.92 42.83,4.91 40,4.85C37.17,4.79 34.75,4.72 33,4.6C31.25,4.47 29.5,4.27 29.5,4.1C29.5,3.93 31.25,3.72 33,3.6C34.75,3.48 37.17,3.44 40,3.4C42.83,3.36 46.67,3.37 50,3.35C53.33,3.33 58.33,3.31 60,3.3Z" fill="#a8a8a8" filter="url(#b0_45)"/>
<path d="M60,4.66C58.33,4.65 53,4.62 50,4.6C47,4.58 44.08,4.59 42,4.55C39.92,4.51 38.5,4.42 37.5,4.35C36.5,4.28 36,4.22 36,4.15C36,4.08 36.5,4.01 37.5,3.95C38.5,3.89 39.92,3.83 42,3.8C44.08,3.77 47,3.77 50,3.75C53,3.73 58.33,3.7 60,3.69Z" fill="#c9c9c9" filter="url(#b0_3)"/>
<ellipse cx="44.5" cy="4.2" rx="4.4" ry="0.26" fill="#dbdbdb" filter="url(#b0_25)"/>
<path d="M21,-0.7C21,-0.51 23.5,-0.12 25,0.1C26.5,0.33 27.83,0.55 30,0.65C32.17,0.75 35.33,0.72 38,0.7C40.67,0.68 43.5,0.58 46,0.55C48.5,0.52 51.83,0.74 53,0.5C54.17,0.26 54.17,-0.68 53,-0.9C51.83,-1.12 48.5,-0.86 46,-0.85C43.5,-0.84 40.67,-0.83 38,-0.85C35.33,-0.87 32.17,-0.92 30,-0.95C27.83,-0.98 26.5,-1.09 25,-1.05C23.5,-1.01 21,-0.89 21,-0.7Z" fill="#a8a8a8" filter="url(#b0_5)"/>
<ellipse cx="31.5" cy="-0.1" rx="4.5" ry="0.42" fill="#bdbdbd" filter="url(#b0_35)"/>
<path d="M60,-2.17C58.33,-2.22 52.67,-2.41 50,-2.5C47.33,-2.59 46,-2.63 44,-2.7C42,-2.77 40,-2.83 38,-2.9C36,-2.97 33.58,-3 32,-3.1C30.42,-3.2 29.42,-3.37 28.5,-3.5C27.58,-3.63 26.5,-3.75 26.5,-3.9C26.5,-4.05 27.58,-4.24 28.5,-4.4C29.42,-4.56 30.42,-4.72 32,-4.85C33.58,-4.98 36,-5.11 38,-5.2C40,-5.29 42,-5.35 44,-5.4C46,-5.45 47.33,-5.46 50,-5.5C52.67,-5.54 58.33,-5.64 60,-5.67Z" fill="#a8a8a8" filter="url(#b0_55)"/>
<path d="M60,-2.67C58.33,-2.72 52.67,-2.91 50,-3C47.33,-3.09 46,-3.12 44,-3.2C42,-3.28 39.5,-3.36 38,-3.45C36.5,-3.54 35.83,-3.64 35,-3.75C34.17,-3.86 33,-3.98 33,-4.1C33,-4.22 34.17,-4.35 35,-4.45C35.83,-4.55 36.5,-4.62 38,-4.7C39.5,-4.78 42,-4.85 44,-4.9C46,-4.95 47.33,-4.96 50,-5C52.67,-5.04 58.33,-5.14 60,-5.17Z" fill="#c7c7c7" filter="url(#b0_4)"/>
<path d="M60,-2.75C58.33,-2.85 52.5,-3.2 50,-3.35C47.5,-3.5 46.5,-3.56 45,-3.65C43.5,-3.74 42.08,-3.82 41,-3.9C39.92,-3.98 38.5,-4.07 38.5,-4.15C38.5,-4.23 39.92,-4.33 41,-4.4C42.08,-4.47 43.5,-4.49 45,-4.55C46.5,-4.61 47.5,-4.65 50,-4.75C52.5,-4.85 58.33,-5.08 60,-5.15Z" fill="#e0e0e0" filter="url(#b0_35)"/>
<path d="M60,-2.72C58.33,-2.86 52.17,-3.37 50,-3.55C47.83,-3.73 47.92,-3.71 47,-3.8C46.08,-3.89 44.5,-4 44.5,-4.1C44.5,-4.2 46.08,-4.33 47,-4.4C47.92,-4.48 47.83,-4.44 50,-4.55C52.17,-4.66 58.33,-4.97 60,-5.05Z" fill="#f7f7f7" filter="url(#b0_3)"/>
</g></g>
<rect x="1263.2" y="548.9" width="483" height="193.2" fill="none" stroke="#000" stroke-width="1.8"/>
<path d="M1263.2,742.1 v5.5 M1311.5,742.1 v3.5 M1359.8,742.1 v5.5 M1408.1,742.1 v3.5 M1456.4,742.1 v5.5 M1504.7,742.1 v3.5 M1553,742.1 v5.5 M1601.3,742.1 v3.5 M1649.6,742.1 v5.5 M1697.9,742.1 v3.5 M1746.2,742.1 v5.5 M1263.2,548.9 h-5.5 M1263.2,573.05 h-3 M1263.2,597.2 h-5.5 M1263.2,621.35 h-3 M1263.2,645.5 h-5.5 M1263.2,669.65 h-3 M1263.2,693.8 h-5.5 M1263.2,717.95 h-3 M1263.2,742.1 h-5.5" stroke="#000" stroke-width="1.5" fill="none"/>
<text x="1263.2" y="767.5" text-anchor="middle" class="t">0</text>
<text x="1359.8" y="767.5" text-anchor="middle" class="t">10</text>
<text x="1456.4" y="767.5" text-anchor="middle" class="t">20</text>
<text x="1553" y="767.5" text-anchor="middle" class="t">30</text>
<text x="1649.6" y="767.5" text-anchor="middle" class="t">40</text>
<text x="1746.2" y="767.5" text-anchor="middle" class="t">50</text>
<text x="1269" y="535.6" class="ti">(i) <tspan class="i">v</tspan><tspan class="sub" dy="8">g</tspan><tspan dy="-8">=100 m/s, </tspan><tspan class="i">v</tspan><tspan class="sub" dy="8">j</tspan><tspan dy="-8">=15 m/s</tspan></text>
<rect x="1759.7" y="561.9" width="32.7" height="176.4" fill="url(#cb)" stroke="#000" stroke-width="2"/>
<text x="1805.9" y="745.5" class="t">0</text>
<text x="1805.9" y="686.7" class="t">73</text>
<text x="1805.9" y="627.9" class="t">147</text>
<text x="1805.9" y="569.1" class="t">220</text>
<path d="M1792.4,738.3 h5.5 M1792.4,679.5 h5.5 M1792.4,620.7 h5.5 M1792.4,561.9 h5.5" stroke="#000" stroke-width="1.6" fill="none"/>
<text class="ax" transform="translate(27,391) rotate(-90)" text-anchor="middle"><tspan class="i">y</tspan> position (mm)</text>
<text class="ax" x="912" y="797.5" text-anchor="middle"><tspan class="i">x</tspan> position (mm)</text>
<text class="ax" x="1192" y="797.5" text-anchor="middle">Film thickness (μm)</text>
</svg>
</body></html>
